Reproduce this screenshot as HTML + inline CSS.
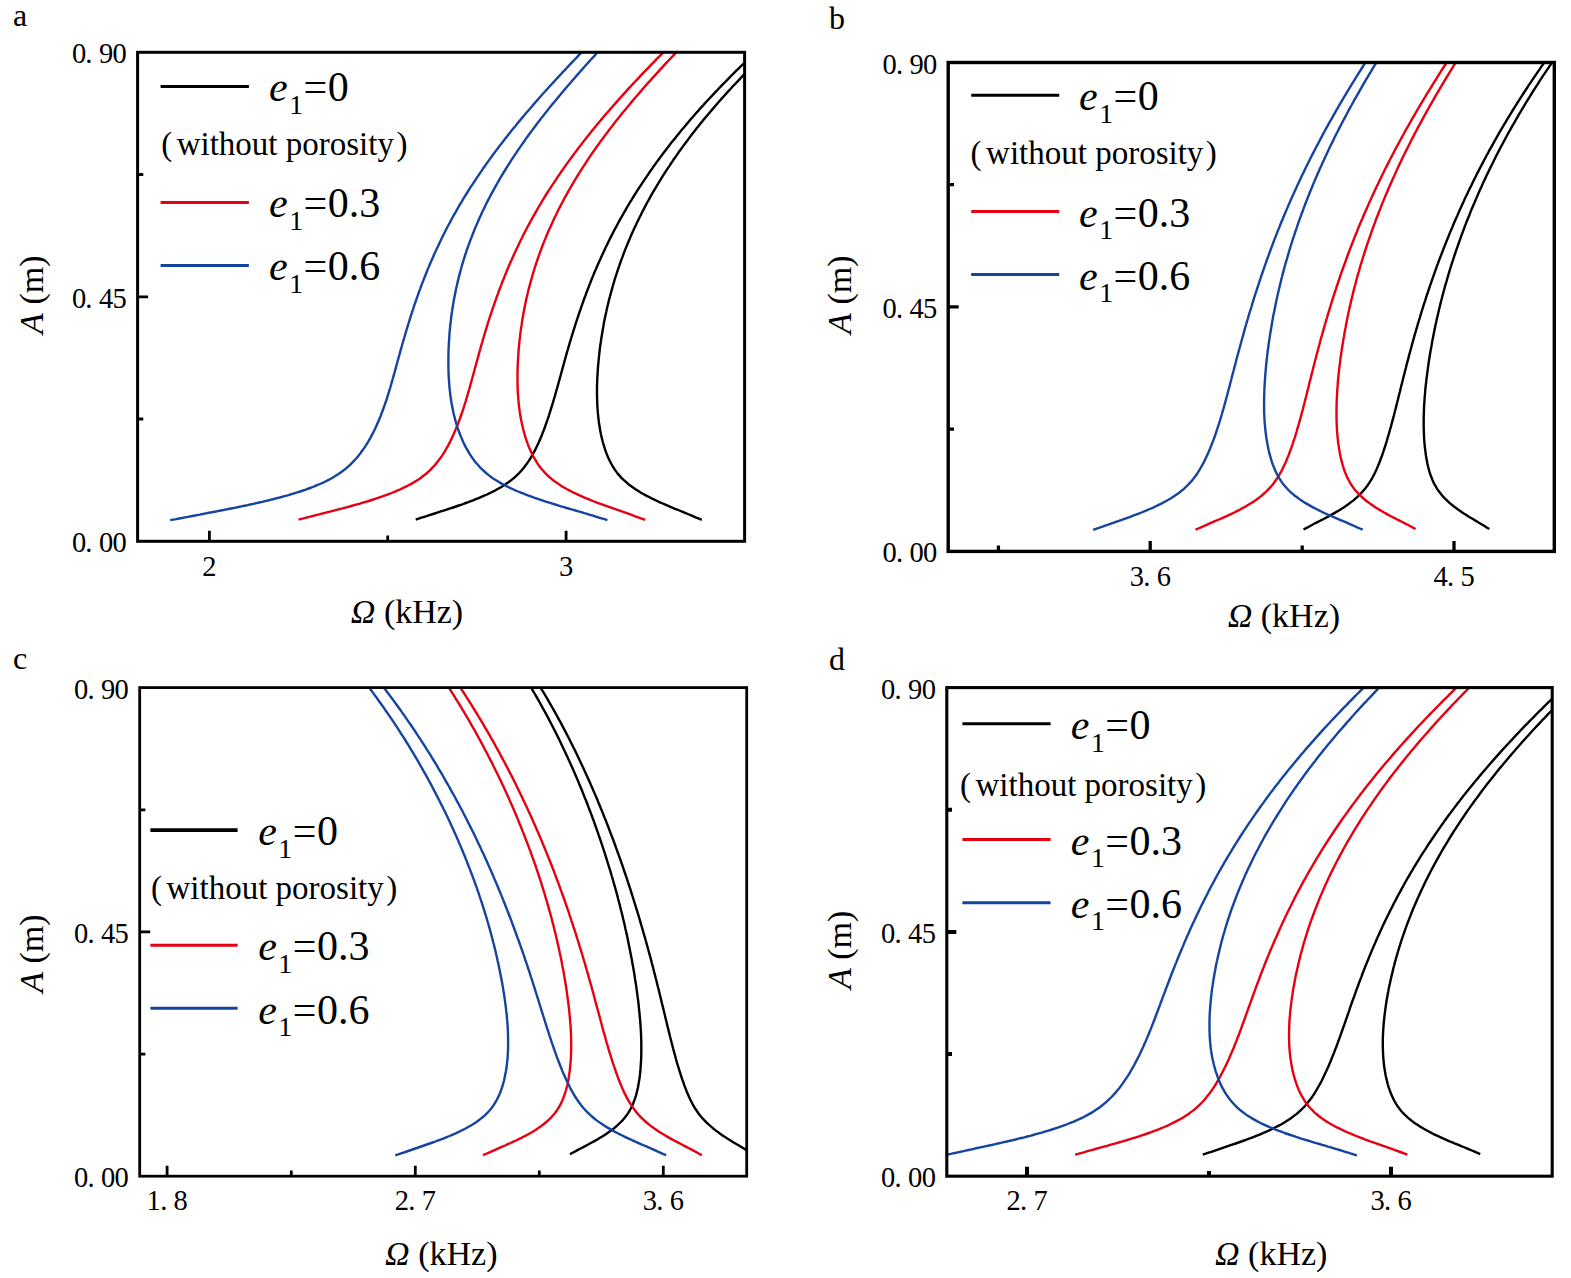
<!DOCTYPE html>
<html lang="en"><head><meta charset="utf-8"><title>Frequency response curves</title>
<style>html,body{margin:0;padding:0;background:#fff}svg{display:block}text{fill:#000}</style></head>
<body>
<svg width="1571" height="1278" viewBox="0 0 1571 1278">
<rect width="1571" height="1278" fill="#fff"/>
<g id="panel-a">
<clipPath id="clip-a"><rect x="137.6" y="52.3" width="607.0" height="489.0"/></clipPath>
<g clip-path="url(#clip-a)" fill="none" stroke-width="2.4" stroke-linejoin="round" stroke-linecap="butt">
<path d="M773.3,36.0 L771.0,38.0 L768.8,40.1 L766.5,42.1 L764.3,44.1 L762.1,46.2 L759.9,48.2 L757.6,50.3 L755.4,52.4 L753.2,54.4 L751.0,56.5 L748.8,58.6 L746.7,60.7 L744.5,62.8 L742.3,64.9 L740.1,67.0 L738.0,69.1 L735.8,71.2 L733.7,73.4 L731.5,75.5 L729.4,77.7 L727.3,79.8 L725.2,82.0 L723.0,84.1 L720.9,86.3 L718.8,88.5 L716.8,90.7 L714.7,92.9 L712.6,95.1 L710.5,97.3 L708.5,99.5 L706.4,101.7 L704.4,103.9 L702.4,106.2 L700.3,108.4 L698.3,110.7 L696.3,112.9 L694.3,115.2 L692.3,117.5 L690.3,119.8 L688.4,122.1 L686.4,124.4 L684.5,126.7 L682.5,129.0 L680.6,131.3 L678.7,133.7 L676.8,136.0 L674.9,138.4 L673.0,140.8 L671.1,143.1 L669.2,145.5 L667.4,147.9 L665.6,150.3 L663.7,152.7 L661.9,155.1 L660.1,157.5 L658.3,160.0 L656.5,162.4 L654.8,164.9 L653.0,167.3 L651.3,169.8 L649.5,172.3 L647.8,174.8 L646.1,177.3 L644.4,179.8 L642.7,182.3 L641.1,184.8 L639.4,187.4 L637.8,189.9 L636.2,192.4 L634.5,195.0 L632.9,197.6 L631.4,200.2 L629.8,202.7 L628.2,205.3 L626.7,207.9 L625.2,210.6 L623.7,213.2 L622.2,215.8 L620.7,218.4 L619.2,221.1 L617.8,223.7 L616.4,226.4 L614.9,229.1 L613.5,231.8 L612.2,234.4 L610.8,237.1 L609.4,239.8 L608.1,242.6 L606.8,245.3 L605.4,248.0 L604.2,250.7 L602.9,253.5 L601.6,256.2 L600.4,259.0 L599.1,261.7 L597.9,264.5 L596.7,267.3 L595.5,270.1 L594.3,272.8 L593.2,275.6 L592.0,278.4 L590.9,281.2 L589.8,284.1 L588.7,286.9 L587.6,289.7 L586.5,292.5 L585.5,295.4 L584.4,298.2 L583.4,301.0 L582.4,303.9 L581.4,306.7 L580.4,309.6 L579.4,312.5 L578.4,315.3 L577.5,318.2 L576.5,321.1 L575.6,323.9 L574.7,326.8 L573.8,329.7 L572.9,332.6 L572.0,335.5 L571.1,338.4 L570.2,341.3 L569.4,344.2 L568.5,347.1 L567.7,350.0 L566.8,352.9 L566.0,355.8 L565.2,358.7 L564.4,361.6 L563.6,364.5 L562.8,367.5 L562.0,370.4 L561.2,373.3 L560.4,376.2 L559.6,379.1 L558.8,382.0 L558.0,385.0 L557.2,387.9 L556.3,390.8 L555.5,393.7 L554.7,396.6 L553.8,399.5 L553.0,402.4 L552.1,405.3 L551.2,408.2 L550.3,411.1 L549.4,414.0 L548.5,416.8 L547.5,419.7 L546.5,422.6 L545.5,425.4 L544.5,428.3 L543.4,431.1 L542.3,433.9 L541.2,436.7 L540.0,439.5 L538.8,442.3 L537.5,445.0 L536.2,447.7 L534.9,450.4 L533.4,453.1 L532.0,455.7 L530.4,458.3 L528.8,460.9 L527.1,463.4 L525.3,465.8 L523.4,468.2 L521.5,470.5 L519.4,472.8 L517.3,474.9 L515.1,477.0 L512.8,478.9 L510.4,480.8 L508.0,482.6 L505.5,484.3 L503.0,485.9 L500.4,487.5 L497.7,489.0 L495.1,490.5 L492.4,491.8 L489.7,493.2 L487.0,494.5 L484.2,495.7 L481.4,496.9 L478.6,498.1 L475.8,499.2 L473.0,500.4 L470.2,501.4 L467.4,502.5 L464.5,503.5 L461.7,504.6 L458.8,505.5 L456.0,506.5 L453.1,507.5 L450.2,508.4 L447.3,509.4 L444.5,510.3 L441.6,511.2 L438.7,512.1 L435.8,513.1 L433.0,514.0 L430.1,514.9 L427.2,515.9 L424.3,516.8 L421.4,517.7 L418.6,518.7 L415.7,519.6" stroke="#000"/>
<path d="M783.6,36.0 L781.4,38.1 L779.2,40.1 L777.0,42.2 L774.8,44.3 L772.6,46.4 L770.4,48.5 L768.2,50.5 L766.0,52.6 L763.8,54.8 L761.7,56.9 L759.5,59.0 L757.3,61.1 L755.2,63.3 L753.0,65.4 L750.9,67.6 L748.8,69.7 L746.7,71.9 L744.6,74.0 L742.5,76.2 L740.4,78.4 L738.3,80.6 L736.2,82.8 L734.1,85.0 L732.0,87.2 L730.0,89.5 L727.9,91.7 L725.9,93.9 L723.9,96.2 L721.9,98.4 L719.8,100.7 L717.8,103.0 L715.9,105.3 L713.9,107.6 L711.9,109.9 L709.9,112.2 L708.0,114.5 L706.1,116.8 L704.1,119.1 L702.2,121.5 L700.3,123.8 L698.4,126.2 L696.5,128.6 L694.6,131.0 L692.8,133.3 L690.9,135.7 L689.1,138.1 L687.3,140.6 L685.5,143.0 L683.7,145.4 L681.9,147.9 L680.1,150.3 L678.3,152.8 L676.6,155.3 L674.9,157.8 L673.1,160.3 L671.4,162.8 L669.8,165.3 L668.1,167.8 L666.4,170.3 L664.8,172.9 L663.2,175.4 L661.5,178.0 L660.0,180.6 L658.4,183.2 L656.8,185.8 L655.3,188.4 L653.7,191.0 L652.2,193.6 L650.7,196.2 L649.3,198.9 L647.8,201.5 L646.3,204.2 L644.9,206.9 L643.5,209.6 L642.1,212.2 L640.8,215.0 L639.4,217.7 L638.1,220.4 L636.8,223.1 L635.5,225.9 L634.2,228.6 L632.9,231.4 L631.7,234.1 L630.5,236.9 L629.3,239.7 L628.1,242.5 L627.0,245.3 L625.8,248.1 L624.7,250.9 L623.6,253.7 L622.6,256.6 L621.5,259.4 L620.5,262.2 L619.5,265.1 L618.5,268.0 L617.5,270.8 L616.6,273.7 L615.6,276.6 L614.7,279.5 L613.9,282.4 L613.0,285.3 L612.2,288.2 L611.4,291.1 L610.6,294.1 L609.8,297.0 L609.0,299.9 L608.3,302.9 L607.6,305.8 L606.9,308.8 L606.3,311.7 L605.6,314.7 L605.0,317.6 L604.4,320.6 L603.8,323.6 L603.3,326.6 L602.8,329.5 L602.3,332.5 L601.8,335.5 L601.3,338.5 L600.9,341.5 L600.4,344.5 L600.0,347.5 L599.7,350.5 L599.3,353.5 L599.0,356.5 L598.7,359.5 L598.4,362.6 L598.1,365.6 L597.9,368.6 L597.7,371.6 L597.5,374.6 L597.3,377.7 L597.2,380.7 L597.1,383.7 L597.0,386.8 L597.0,389.8 L597.0,392.8 L597.0,395.8 L597.1,398.9 L597.2,401.9 L597.3,404.9 L597.5,407.9 L597.7,411.0 L598.0,414.0 L598.3,417.0 L598.6,420.0 L599.0,423.0 L599.5,426.0 L600.0,429.0 L600.5,432.0 L601.1,434.9 L601.8,437.9 L602.5,440.8 L603.3,443.8 L604.2,446.7 L605.1,449.5 L606.1,452.4 L607.2,455.2 L608.4,458.0 L609.7,460.8 L611.1,463.5 L612.6,466.1 L614.2,468.7 L615.9,471.1 L617.7,473.6 L619.7,475.9 L621.7,478.1 L623.9,480.2 L626.2,482.2 L628.5,484.2 L630.9,486.0 L633.4,487.8 L635.9,489.5 L638.4,491.1 L641.0,492.7 L643.7,494.2 L646.3,495.6 L649.0,497.0 L651.7,498.4 L654.4,499.7 L657.1,501.0 L659.9,502.3 L662.7,503.5 L665.4,504.7 L668.2,505.9 L671.0,507.1 L673.8,508.3 L676.6,509.4 L679.4,510.5 L682.2,511.7 L685.0,512.8 L687.8,514.0 L690.6,515.2 L693.4,516.4 L696.2,517.6 L699.0,518.7 L701.8,519.9" stroke="#000"/>
<path d="M679.6,36.0 L677.5,38.1 L675.3,40.3 L673.2,42.4 L671.0,44.5 L668.9,46.7 L666.8,48.8 L664.6,51.0 L662.5,53.1 L660.4,55.3 L658.2,57.4 L656.1,59.6 L654.0,61.8 L651.9,63.9 L649.8,66.1 L647.7,68.3 L645.6,70.5 L643.5,72.7 L641.4,74.9 L639.4,77.1 L637.3,79.3 L635.2,81.5 L633.1,83.7 L631.1,85.9 L629.0,88.1 L627.0,90.4 L625.0,92.6 L622.9,94.9 L620.9,97.1 L618.9,99.4 L616.9,101.6 L614.9,103.9 L612.9,106.2 L610.9,108.4 L608.9,110.7 L606.9,113.0 L604.9,115.3 L603.0,117.6 L601.0,119.9 L599.1,122.2 L597.1,124.6 L595.2,126.9 L593.3,129.3 L591.4,131.6 L589.5,134.0 L587.6,136.3 L585.7,138.7 L583.9,141.1 L582.0,143.5 L580.1,145.9 L578.3,148.3 L576.5,150.7 L574.7,153.1 L572.9,155.5 L571.1,158.0 L569.3,160.4 L567.5,162.9 L565.7,165.3 L564.0,167.8 L562.3,170.3 L560.5,172.8 L558.8,175.3 L557.1,177.8 L555.4,180.3 L553.8,182.8 L552.1,185.3 L550.5,187.9 L548.8,190.4 L547.2,193.0 L545.6,195.5 L544.0,198.1 L542.4,200.7 L540.9,203.3 L539.3,205.9 L537.8,208.5 L536.3,211.1 L534.8,213.8 L533.3,216.4 L531.8,219.0 L530.4,221.7 L528.9,224.4 L527.5,227.0 L526.1,229.7 L524.7,232.4 L523.3,235.1 L522.0,237.8 L520.6,240.5 L519.3,243.2 L518.0,246.0 L516.7,248.7 L515.4,251.4 L514.1,254.2 L512.9,256.9 L511.7,259.7 L510.4,262.5 L509.2,265.2 L508.0,268.0 L506.9,270.8 L505.7,273.6 L504.6,276.4 L503.5,279.2 L502.3,282.0 L501.3,284.9 L500.2,287.7 L499.1,290.5 L498.1,293.4 L497.0,296.2 L496.0,299.1 L495.0,301.9 L494.0,304.8 L493.0,307.6 L492.0,310.5 L491.1,313.4 L490.1,316.3 L489.2,319.1 L488.3,322.0 L487.4,324.9 L486.5,327.8 L485.6,330.7 L484.7,333.6 L483.9,336.5 L483.0,339.4 L482.2,342.3 L481.3,345.2 L480.5,348.1 L479.7,351.0 L478.9,353.9 L478.1,356.9 L477.3,359.8 L476.5,362.7 L475.7,365.6 L474.9,368.5 L474.1,371.5 L473.3,374.4 L472.5,377.3 L471.7,380.2 L470.9,383.1 L470.1,386.1 L469.3,389.0 L468.4,391.9 L467.6,394.8 L466.7,397.7 L465.9,400.6 L465.0,403.5 L464.1,406.4 L463.1,409.3 L462.2,412.1 L461.2,415.0 L460.2,417.8 L459.1,420.7 L458.1,423.5 L457.0,426.3 L455.8,429.1 L454.6,431.9 L453.4,434.7 L452.2,437.4 L450.8,440.2 L449.5,442.9 L448.1,445.6 L446.6,448.2 L445.1,450.8 L443.5,453.4 L441.9,455.9 L440.1,458.4 L438.3,460.8 L436.4,463.2 L434.5,465.5 L432.4,467.7 L430.3,469.9 L428.1,472.0 L425.8,474.0 L423.4,475.8 L421.0,477.7 L418.5,479.4 L416.0,481.0 L413.4,482.6 L410.8,484.1 L408.1,485.5 L405.4,486.9 L402.7,488.2 L399.9,489.5 L397.2,490.7 L394.4,491.9 L391.6,493.0 L388.7,494.1 L385.9,495.2 L383.1,496.2 L380.2,497.2 L377.3,498.2 L374.5,499.1 L371.6,500.0 L368.7,501.0 L365.8,501.8 L362.9,502.7 L360.0,503.6 L357.1,504.4 L354.2,505.2 L351.3,506.0 L348.3,506.8 L345.4,507.6 L342.5,508.4 L339.6,509.1 L336.6,509.9 L333.7,510.6 L330.8,511.4 L327.8,512.1 L324.9,512.9 L322.0,513.6 L319.0,514.4 L316.1,515.1 L313.2,515.9 L310.2,516.7 L307.3,517.4 L304.4,518.2 L301.4,518.9 L298.5,519.6" stroke="#e60012"/>
<path d="M692.0,36.0 L689.9,38.2 L687.8,40.3 L685.7,42.5 L683.6,44.7 L681.5,46.9 L679.4,49.0 L677.3,51.2 L675.3,53.4 L673.2,55.6 L671.1,57.8 L669.0,60.0 L667.0,62.2 L664.9,64.4 L662.9,66.6 L660.8,68.9 L658.8,71.1 L656.7,73.3 L654.7,75.6 L652.7,77.8 L650.7,80.1 L648.6,82.3 L646.6,84.6 L644.6,86.8 L642.6,89.1 L640.7,91.4 L638.7,93.7 L636.7,96.0 L634.7,98.3 L632.8,100.6 L630.8,102.9 L628.9,105.2 L627.0,107.5 L625.1,109.9 L623.1,112.2 L621.2,114.5 L619.3,116.9 L617.5,119.3 L615.6,121.6 L613.7,124.0 L611.9,126.4 L610.0,128.8 L608.2,131.2 L606.4,133.6 L604.6,136.0 L602.8,138.5 L601.0,140.9 L599.2,143.3 L597.5,145.8 L595.7,148.3 L594.0,150.7 L592.2,153.2 L590.5,155.7 L588.8,158.2 L587.2,160.7 L585.5,163.3 L583.8,165.8 L582.2,168.3 L580.6,170.9 L579.0,173.4 L577.4,176.0 L575.8,178.6 L574.2,181.2 L572.7,183.8 L571.2,186.4 L569.7,189.0 L568.2,191.6 L566.7,194.3 L565.2,196.9 L563.8,199.6 L562.4,202.2 L561.0,204.9 L559.6,207.6 L558.2,210.3 L556.9,213.0 L555.6,215.7 L554.2,218.4 L553.0,221.2 L551.7,223.9 L550.5,226.7 L549.2,229.4 L548.0,232.2 L546.8,235.0 L545.7,237.8 L544.5,240.6 L543.4,243.4 L542.3,246.2 L541.3,249.0 L540.2,251.9 L539.2,254.7 L538.2,257.5 L537.2,260.4 L536.2,263.3 L535.3,266.1 L534.4,269.0 L533.5,271.9 L532.6,274.8 L531.8,277.7 L531.0,280.6 L530.2,283.5 L529.4,286.5 L528.6,289.4 L527.9,292.3 L527.2,295.3 L526.5,298.2 L525.9,301.1 L525.3,304.1 L524.7,307.1 L524.1,310.0 L523.5,313.0 L523.0,316.0 L522.5,319.0 L522.0,321.9 L521.6,324.9 L521.1,327.9 L520.7,330.9 L520.3,333.9 L520.0,336.9 L519.6,339.9 L519.3,342.9 L519.0,345.9 L518.7,348.9 L518.5,351.9 L518.3,355.0 L518.1,358.0 L517.9,361.0 L517.8,364.0 L517.6,367.0 L517.6,370.1 L517.5,373.1 L517.5,376.1 L517.5,379.1 L517.5,382.1 L517.6,385.2 L517.6,388.2 L517.8,391.2 L517.9,394.2 L518.2,397.2 L518.4,400.2 L518.7,403.3 L519.0,406.3 L519.4,409.3 L519.8,412.2 L520.3,415.2 L520.8,418.2 L521.4,421.2 L522.0,424.1 L522.7,427.1 L523.4,430.0 L524.2,432.9 L525.0,435.8 L525.9,438.7 L526.9,441.6 L527.9,444.4 L529.0,447.2 L530.2,450.0 L531.5,452.8 L532.8,455.5 L534.2,458.1 L535.8,460.7 L537.4,463.3 L539.1,465.8 L540.9,468.2 L542.9,470.5 L544.9,472.7 L547.0,474.9 L549.2,476.9 L551.5,478.9 L553.9,480.8 L556.4,482.6 L558.9,484.3 L561.4,485.9 L564.0,487.5 L566.6,489.0 L569.3,490.4 L572.0,491.8 L574.7,493.1 L577.4,494.4 L580.1,495.7 L582.9,496.9 L585.7,498.1 L588.5,499.2 L591.3,500.4 L594.1,501.5 L596.9,502.6 L599.7,503.6 L602.6,504.7 L605.4,505.7 L608.2,506.7 L611.1,507.7 L614.0,508.7 L616.8,509.7 L619.7,510.7 L622.5,511.7 L625.4,512.7 L628.2,513.7 L631.1,514.7 L633.9,515.8 L636.7,516.8 L639.6,517.8 L642.4,518.8 L645.3,519.8" stroke="#e60012"/>
<path d="M597.3,36.0 L595.2,38.2 L593.1,40.3 L591.0,42.5 L588.9,44.7 L586.8,46.9 L584.7,49.0 L582.6,51.2 L580.5,53.4 L578.4,55.6 L576.4,57.8 L574.3,60.0 L572.2,62.2 L570.1,64.4 L568.0,66.6 L566.0,68.8 L563.9,71.0 L561.8,73.2 L559.8,75.4 L557.7,77.6 L555.7,79.8 L553.6,82.1 L551.6,84.3 L549.5,86.5 L547.5,88.8 L545.5,91.0 L543.4,93.3 L541.4,95.5 L539.4,97.8 L537.4,100.1 L535.4,102.3 L533.4,104.6 L531.5,106.9 L529.5,109.2 L527.5,111.5 L525.5,113.8 L523.6,116.1 L521.6,118.4 L519.7,120.8 L517.8,123.1 L515.9,125.4 L513.9,127.8 L512.0,130.1 L510.1,132.5 L508.3,134.8 L506.4,137.2 L504.5,139.6 L502.7,142.0 L500.8,144.4 L499.0,146.8 L497.1,149.2 L495.3,151.6 L493.5,154.0 L491.7,156.5 L490.0,158.9 L488.2,161.4 L486.4,163.8 L484.7,166.3 L482.9,168.8 L481.2,171.3 L479.5,173.8 L477.8,176.3 L476.1,178.8 L474.5,181.3 L472.8,183.8 L471.1,186.4 L469.5,188.9 L467.9,191.5 L466.3,194.0 L464.7,196.6 L463.1,199.2 L461.6,201.8 L460.0,204.4 L458.5,207.0 L457.0,209.6 L455.5,212.3 L454.0,214.9 L452.5,217.5 L451.1,220.2 L449.7,222.9 L448.2,225.5 L446.8,228.2 L445.4,230.9 L444.1,233.6 L442.7,236.3 L441.4,239.0 L440.1,241.7 L438.8,244.5 L437.5,247.2 L436.2,250.0 L434.9,252.7 L433.7,255.5 L432.5,258.2 L431.3,261.0 L430.1,263.8 L428.9,266.6 L427.7,269.4 L426.6,272.2 L425.5,275.0 L424.4,277.8 L423.3,280.6 L422.2,283.4 L421.1,286.3 L420.1,289.1 L419.0,291.9 L418.0,294.8 L417.0,297.6 L416.0,300.5 L415.0,303.4 L414.0,306.2 L413.1,309.1 L412.1,312.0 L411.2,314.9 L410.3,317.7 L409.4,320.6 L408.5,323.5 L407.6,326.4 L406.7,329.3 L405.9,332.2 L405.0,335.1 L404.2,338.0 L403.3,340.9 L402.5,343.8 L401.7,346.7 L400.8,349.6 L400.0,352.6 L399.2,355.5 L398.4,358.4 L397.6,361.3 L396.8,364.2 L396.0,367.1 L395.2,370.1 L394.4,373.0 L393.6,375.9 L392.8,378.8 L391.9,381.7 L391.1,384.6 L390.3,387.5 L389.4,390.4 L388.5,393.3 L387.6,396.2 L386.7,399.1 L385.7,402.0 L384.7,404.8 L383.7,407.7 L382.7,410.5 L381.6,413.4 L380.6,416.2 L379.4,419.0 L378.2,421.8 L377.0,424.5 L375.8,427.3 L374.5,430.0 L373.1,432.7 L371.7,435.4 L370.3,438.1 L368.8,440.7 L367.2,443.3 L365.6,445.8 L363.9,448.4 L362.2,450.8 L360.4,453.3 L358.5,455.7 L356.6,458.0 L354.6,460.2 L352.5,462.4 L350.3,464.6 L348.1,466.6 L345.8,468.6 L343.4,470.5 L341.0,472.3 L338.5,474.0 L336.0,475.6 L333.4,477.2 L330.8,478.7 L328.1,480.1 L325.4,481.5 L322.7,482.8 L319.9,484.0 L317.1,485.2 L314.3,486.4 L311.5,487.5 L308.7,488.5 L305.8,489.6 L303.0,490.5 L300.1,491.5 L297.2,492.4 L294.3,493.3 L291.4,494.2 L288.5,495.1 L285.6,495.9 L282.7,496.7 L279.8,497.5 L276.9,498.2 L273.9,499.0 L271.0,499.7 L268.1,500.5 L265.1,501.2 L262.2,501.9 L259.2,502.5 L256.3,503.2 L253.3,503.9 L250.4,504.5 L247.4,505.2 L244.5,505.8 L241.5,506.4 L238.5,507.0 L235.6,507.6 L232.6,508.2 L229.6,508.8 L226.7,509.4 L223.7,510.0 L220.7,510.5 L217.8,511.1 L214.8,511.7 L211.8,512.3 L208.8,512.8 L205.9,513.4 L202.9,514.0 L199.9,514.6 L197.0,515.1 L194.0,515.7 L191.0,516.3 L188.1,516.9 L185.1,517.4 L182.1,518.0 L179.1,518.5 L176.2,519.1 L173.2,519.6 L170.2,520.1" stroke="#1544a0"/>
<path d="M612.6,36.0 L610.5,38.2 L608.5,40.4 L606.4,42.7 L604.4,44.9 L602.3,47.1 L600.3,49.3 L598.2,51.6 L596.2,53.8 L594.2,56.1 L592.1,58.3 L590.1,60.5 L588.1,62.8 L586.0,65.0 L584.0,67.3 L582.0,69.6 L580.0,71.8 L578.0,74.1 L576.0,76.4 L574.0,78.7 L572.0,80.9 L570.1,83.2 L568.1,85.5 L566.1,87.8 L564.2,90.1 L562.2,92.5 L560.3,94.8 L558.3,97.1 L556.4,99.4 L554.5,101.8 L552.5,104.1 L550.6,106.5 L548.7,108.8 L546.8,111.2 L545.0,113.6 L543.1,115.9 L541.2,118.3 L539.4,120.7 L537.5,123.1 L535.7,125.5 L533.9,128.0 L532.1,130.4 L530.3,132.8 L528.5,135.3 L526.7,137.7 L525.0,140.2 L523.2,142.7 L521.5,145.1 L519.8,147.6 L518.0,150.1 L516.4,152.6 L514.7,155.1 L513.0,157.7 L511.3,160.2 L509.7,162.8 L508.1,165.3 L506.5,167.9 L504.9,170.5 L503.3,173.0 L501.7,175.6 L500.2,178.2 L498.7,180.9 L497.2,183.5 L495.7,186.1 L494.2,188.8 L492.8,191.4 L491.3,194.1 L489.9,196.8 L488.5,199.4 L487.1,202.1 L485.8,204.8 L484.4,207.6 L483.1,210.3 L481.8,213.0 L480.6,215.8 L479.3,218.5 L478.1,221.3 L476.9,224.1 L475.7,226.9 L474.5,229.7 L473.4,232.5 L472.3,235.3 L471.2,238.1 L470.1,240.9 L469.1,243.8 L468.0,246.6 L467.0,249.5 L466.1,252.3 L465.1,255.2 L464.2,258.1 L463.3,261.0 L462.4,263.9 L461.6,266.8 L460.8,269.7 L460.0,272.6 L459.2,275.6 L458.5,278.5 L457.8,281.4 L457.1,284.4 L456.4,287.3 L455.8,290.3 L455.2,293.3 L454.6,296.2 L454.0,299.2 L453.5,302.2 L453.0,305.2 L452.5,308.2 L452.1,311.2 L451.6,314.2 L451.2,317.2 L450.9,320.2 L450.5,323.2 L450.2,326.2 L449.9,329.2 L449.6,332.2 L449.4,335.2 L449.2,338.3 L449.0,341.3 L448.8,344.3 L448.7,347.3 L448.5,350.4 L448.5,353.4 L448.4,356.4 L448.4,359.4 L448.4,362.5 L448.4,365.5 L448.4,368.5 L448.5,371.5 L448.6,374.6 L448.8,377.6 L449.0,380.6 L449.2,383.6 L449.4,386.6 L449.7,389.7 L450.1,392.7 L450.4,395.7 L450.9,398.7 L451.3,401.7 L451.8,404.6 L452.4,407.6 L453.0,410.6 L453.6,413.5 L454.4,416.5 L455.1,419.4 L455.9,422.3 L456.8,425.2 L457.7,428.1 L458.7,431.0 L459.8,433.8 L460.9,436.6 L462.1,439.4 L463.3,442.2 L464.6,444.9 L466.0,447.6 L467.5,450.2 L469.0,452.9 L470.6,455.4 L472.3,457.9 L474.1,460.4 L476.0,462.7 L478.0,465.0 L480.0,467.3 L482.1,469.4 L484.4,471.5 L486.6,473.5 L489.0,475.4 L491.4,477.2 L493.9,478.9 L496.5,480.5 L499.1,482.1 L501.7,483.6 L504.4,485.0 L507.0,486.4 L509.8,487.8 L512.5,489.0 L515.3,490.3 L518.1,491.5 L520.9,492.6 L523.7,493.7 L526.5,494.8 L529.3,495.9 L532.2,496.9 L535.0,498.0 L537.9,498.9 L540.7,499.9 L543.6,500.9 L546.5,501.8 L549.4,502.7 L552.3,503.6 L555.2,504.5 L558.1,505.4 L561.0,506.3 L563.9,507.1 L566.8,508.0 L569.7,508.8 L572.6,509.7 L575.5,510.5 L578.4,511.4 L581.3,512.2 L584.2,513.1 L587.1,513.9 L590.0,514.8 L592.9,515.7 L595.8,516.6 L598.7,517.5 L601.6,518.3 L604.5,519.2 L607.4,520.1" stroke="#1544a0"/>
</g>
<rect x="137.6" y="52.3" width="607.0" height="489.0" fill="none" stroke="#000" stroke-width="3.0"/>
<path d="M209.4,541.3 V530.8 M566.1,541.3 V530.8 M387.7,541.3 V535.5 M137.6,296.8 H148.1 M137.6,174.5 H143.3 M137.6,419.0 H143.3" stroke="#000" stroke-width="2.8" fill="none"/>
<text x="209.4" y="575.5" text-anchor="middle" font-size="28.5" font-family="Liberation Serif, serif">2</text>
<text x="566.1" y="575.5" text-anchor="middle" font-size="28.5" font-family="Liberation Serif, serif">3</text>
<text x="79.0 88.9 106.0 119.6" y="63.3" text-anchor="middle" font-size="28.5" font-family="Liberation Serif, serif">0.90</text>
<text x="79.0 88.9 106.0 119.6" y="307.8" text-anchor="middle" font-size="28.5" font-family="Liberation Serif, serif">0.45</text>
<text x="79.0 88.9 106.0 119.6" y="552.3" text-anchor="middle" font-size="28.5" font-family="Liberation Serif, serif">0.00</text>
<text x="407.0" y="622.5" text-anchor="middle" font-size="34" font-family="Liberation Serif, serif"><tspan font-style="italic">Ω</tspan> (kHz)</text>
<text transform="translate(43.2,294.7) rotate(-90)" text-anchor="middle" font-size="34" font-family="Liberation Serif, serif"><tspan font-style="italic">A</tspan> (m)</text>
<line x1="160.6" x2="248.9" y1="86.4" y2="86.4" stroke="#000" stroke-width="3.0"/>
<text x="269.0" y="101.3" font-size="42" font-family="Liberation Serif, serif"><tspan font-style="italic">e</tspan><tspan font-size="27.7" dx="1.5" dy="12.5">1</tspan><tspan dx="0.5" dy="-12.5">=</tspan><tspan dx="0.5">0</tspan></text>
<line x1="160.6" x2="248.9" y1="202.4" y2="202.4" stroke="#e60012" stroke-width="3.0"/>
<text x="269.0" y="217.2" font-size="42" font-family="Liberation Serif, serif"><tspan font-style="italic">e</tspan><tspan font-size="27.7" dx="1.5" dy="12.5">1</tspan><tspan dx="0.5" dy="-12.5">=</tspan><tspan dx="0.5">0.3</tspan></text>
<line x1="160.6" x2="248.9" y1="265.5" y2="265.5" stroke="#1544a0" stroke-width="3.0"/>
<text x="269.0" y="280.4" font-size="42" font-family="Liberation Serif, serif"><tspan font-style="italic">e</tspan><tspan font-size="27.7" dx="1.5" dy="12.5">1</tspan><tspan dx="0.5" dy="-12.5">=</tspan><tspan dx="0.5">0.6</tspan></text>
<text x="161.2" y="155.2" font-size="33" font-family="Liberation Serif, Noto Serif CJK SC, serif">(<tspan dx="4.5">without porosity</tspan><tspan dx="2.5">)</tspan></text>
<text x="13.0" y="26.0" font-size="32" font-family="Liberation Serif, serif">a</text>
</g>
<g id="panel-b">
<clipPath id="clip-b"><rect x="948.2" y="62.5" width="606.1" height="488.9"/></clipPath>
<g clip-path="url(#clip-b)" fill="none" stroke-width="2.4" stroke-linejoin="round" stroke-linecap="butt">
<path d="M1556.0,46.2 L1554.2,48.6 L1552.5,51.1 L1550.7,53.6 L1548.9,56.0 L1547.2,58.5 L1545.4,61.0 L1543.7,63.4 L1541.9,65.9 L1540.2,68.4 L1538.5,70.9 L1536.8,73.4 L1535.1,75.9 L1533.4,78.4 L1531.7,80.9 L1530.0,83.4 L1528.3,85.9 L1526.7,88.5 L1525.0,91.0 L1523.4,93.5 L1521.7,96.1 L1520.1,98.6 L1518.5,101.2 L1516.9,103.7 L1515.2,106.3 L1513.6,108.9 L1512.0,111.5 L1510.5,114.0 L1508.9,116.6 L1507.3,119.2 L1505.8,121.8 L1504.2,124.4 L1502.7,127.0 L1501.1,129.6 L1499.6,132.2 L1498.1,134.9 L1496.6,137.5 L1495.1,140.1 L1493.6,142.8 L1492.2,145.4 L1490.7,148.1 L1489.2,150.7 L1487.8,153.4 L1486.3,156.0 L1484.9,158.7 L1483.5,161.4 L1482.1,164.1 L1480.7,166.7 L1479.3,169.4 L1477.9,172.1 L1476.5,174.8 L1475.2,177.5 L1473.8,180.2 L1472.5,182.9 L1471.2,185.7 L1469.8,188.4 L1468.5,191.1 L1467.2,193.9 L1465.9,196.6 L1464.6,199.3 L1463.4,202.1 L1462.1,204.8 L1460.9,207.6 L1459.6,210.3 L1458.4,213.1 L1457.2,215.9 L1455.9,218.7 L1454.7,221.4 L1453.5,224.2 L1452.4,227.0 L1451.2,229.8 L1450.0,232.6 L1448.9,235.4 L1447.7,238.2 L1446.6,241.0 L1445.5,243.8 L1444.4,246.6 L1443.3,249.4 L1442.2,252.3 L1441.1,255.1 L1440.0,257.9 L1438.9,260.8 L1437.9,263.6 L1436.8,266.4 L1435.8,269.3 L1434.8,272.1 L1433.8,275.0 L1432.8,277.8 L1431.8,280.7 L1430.8,283.6 L1429.8,286.4 L1428.8,289.3 L1427.9,292.2 L1426.9,295.0 L1426.0,297.9 L1425.1,300.8 L1424.1,303.7 L1423.2,306.6 L1422.3,309.5 L1421.4,312.3 L1420.5,315.2 L1419.7,318.1 L1418.8,321.0 L1417.9,323.9 L1417.1,326.8 L1416.2,329.7 L1415.4,332.7 L1414.5,335.6 L1413.7,338.5 L1412.9,341.4 L1412.1,344.3 L1411.3,347.2 L1410.5,350.2 L1409.7,353.1 L1408.9,356.0 L1408.2,358.9 L1407.4,361.9 L1406.6,364.8 L1405.9,367.7 L1405.1,370.7 L1404.4,373.6 L1403.6,376.5 L1402.9,379.5 L1402.2,382.4 L1401.4,385.3 L1400.7,388.3 L1400.0,391.2 L1399.2,394.2 L1398.5,397.1 L1397.8,400.0 L1397.0,403.0 L1396.3,405.9 L1395.6,408.8 L1394.8,411.8 L1394.1,414.7 L1393.3,417.6 L1392.5,420.6 L1391.7,423.5 L1391.0,426.4 L1390.1,429.3 L1389.3,432.2 L1388.5,435.1 L1387.6,438.0 L1386.8,440.9 L1385.9,443.8 L1385.0,446.7 L1384.0,449.6 L1383.1,452.5 L1382.1,455.3 L1381.0,458.2 L1380.0,461.0 L1378.9,463.8 L1377.7,466.6 L1376.5,469.4 L1375.2,472.2 L1373.9,474.9 L1372.5,477.5 L1371.0,480.2 L1369.4,482.7 L1367.7,485.2 L1365.8,487.7 L1363.9,490.0 L1361.9,492.3 L1359.8,494.5 L1357.7,496.6 L1355.4,498.6 L1353.1,500.6 L1350.7,502.4 L1348.3,504.2 L1345.8,506.0 L1343.3,507.7 L1340.8,509.3 L1338.2,510.9 L1335.6,512.4 L1333.0,513.9 L1330.3,515.4 L1327.6,516.9 L1325.0,518.3 L1322.3,519.7 L1319.6,521.0 L1316.9,522.4 L1314.2,523.8 L1311.5,525.2 L1308.9,526.7 L1306.2,528.1 L1303.5,529.5" stroke="#000"/>
<path d="M1563.4,46.2 L1561.7,48.7 L1559.9,51.1 L1558.2,53.6 L1556.4,56.1 L1554.7,58.6 L1553.0,61.1 L1551.3,63.6 L1549.6,66.1 L1547.9,68.6 L1546.2,71.1 L1544.5,73.6 L1542.8,76.2 L1541.2,78.7 L1539.5,81.2 L1537.9,83.8 L1536.2,86.3 L1534.6,88.9 L1533.0,91.4 L1531.4,94.0 L1529.8,96.6 L1528.2,99.2 L1526.6,101.7 L1525.0,104.3 L1523.5,106.9 L1521.9,109.5 L1520.4,112.1 L1518.8,114.7 L1517.3,117.4 L1515.8,120.0 L1514.3,122.6 L1512.8,125.2 L1511.3,127.9 L1509.8,130.5 L1508.3,133.2 L1506.9,135.8 L1505.4,138.5 L1504.0,141.1 L1502.6,143.8 L1501.1,146.5 L1499.7,149.2 L1498.3,151.9 L1496.9,154.6 L1495.6,157.3 L1494.2,160.0 L1492.9,162.7 L1491.5,165.4 L1490.2,168.1 L1488.9,170.8 L1487.5,173.6 L1486.2,176.3 L1485.0,179.0 L1483.7,181.8 L1482.4,184.5 L1481.2,187.3 L1479.9,190.1 L1478.7,192.8 L1477.5,195.6 L1476.3,198.4 L1475.1,201.2 L1473.9,204.0 L1472.7,206.7 L1471.5,209.5 L1470.4,212.3 L1469.3,215.2 L1468.1,218.0 L1467.0,220.8 L1465.9,223.6 L1464.8,226.4 L1463.8,229.3 L1462.7,232.1 L1461.6,234.9 L1460.6,237.8 L1459.6,240.6 L1458.6,243.5 L1457.6,246.4 L1456.6,249.2 L1455.6,252.1 L1454.6,255.0 L1453.7,257.8 L1452.8,260.7 L1451.8,263.6 L1450.9,266.5 L1450.0,269.4 L1449.1,272.3 L1448.3,275.2 L1447.4,278.1 L1446.6,281.0 L1445.7,283.9 L1444.9,286.8 L1444.1,289.7 L1443.3,292.7 L1442.5,295.6 L1441.8,298.5 L1441.0,301.5 L1440.3,304.4 L1439.6,307.3 L1438.9,310.3 L1438.2,313.2 L1437.5,316.2 L1436.8,319.1 L1436.2,322.1 L1435.5,325.1 L1434.9,328.0 L1434.3,331.0 L1433.7,334.0 L1433.1,336.9 L1432.5,339.9 L1432.0,342.9 L1431.5,345.9 L1430.9,348.9 L1430.4,351.8 L1429.9,354.8 L1429.4,357.8 L1429.0,360.8 L1428.5,363.8 L1428.1,366.8 L1427.7,369.8 L1427.3,372.8 L1426.9,375.8 L1426.5,378.8 L1426.2,381.8 L1425.8,384.8 L1425.5,387.9 L1425.2,390.9 L1425.0,393.9 L1424.7,396.9 L1424.5,399.9 L1424.3,403.0 L1424.1,406.0 L1424.0,409.0 L1423.9,412.0 L1423.8,415.1 L1423.7,418.1 L1423.7,421.1 L1423.7,424.1 L1423.7,427.2 L1423.8,430.2 L1423.9,433.2 L1424.0,436.3 L1424.2,439.3 L1424.4,442.3 L1424.7,445.3 L1425.0,448.3 L1425.4,451.3 L1425.8,454.3 L1426.2,457.3 L1426.8,460.3 L1427.3,463.3 L1428.0,466.2 L1428.8,469.2 L1429.6,472.1 L1430.5,475.0 L1431.6,477.8 L1432.7,480.6 L1434.0,483.4 L1435.5,486.0 L1437.0,488.6 L1438.7,491.1 L1440.6,493.5 L1442.5,495.9 L1444.5,498.1 L1446.7,500.2 L1448.9,502.3 L1451.2,504.3 L1453.6,506.2 L1456.0,508.0 L1458.4,509.8 L1460.9,511.5 L1463.4,513.2 L1466.0,514.8 L1468.5,516.5 L1471.1,518.0 L1473.7,519.6 L1476.3,521.1 L1478.9,522.7 L1481.5,524.2 L1484.1,525.8 L1486.7,527.4 L1489.3,529.0" stroke="#000"/>
<path d="M1457.3,46.2 L1455.6,48.7 L1453.9,51.3 L1452.3,53.8 L1450.6,56.3 L1449.0,58.9 L1447.3,61.4 L1445.7,64.0 L1444.1,66.5 L1442.4,69.0 L1440.8,71.6 L1439.2,74.2 L1437.6,76.7 L1436.0,79.3 L1434.4,81.9 L1432.8,84.4 L1431.2,87.0 L1429.6,89.6 L1428.0,92.2 L1426.4,94.7 L1424.9,97.3 L1423.3,99.9 L1421.8,102.5 L1420.2,105.1 L1418.7,107.7 L1417.1,110.3 L1415.6,113.0 L1414.1,115.6 L1412.6,118.2 L1411.1,120.8 L1409.6,123.5 L1408.1,126.1 L1406.6,128.7 L1405.1,131.4 L1403.7,134.0 L1402.2,136.7 L1400.8,139.3 L1399.3,142.0 L1397.9,144.6 L1396.4,147.3 L1395.0,150.0 L1393.6,152.7 L1392.2,155.4 L1390.8,158.0 L1389.4,160.7 L1388.1,163.4 L1386.7,166.1 L1385.3,168.8 L1384.0,171.5 L1382.6,174.3 L1381.3,177.0 L1380.0,179.7 L1378.7,182.4 L1377.4,185.1 L1376.1,187.9 L1374.8,190.6 L1373.5,193.4 L1372.2,196.1 L1371.0,198.9 L1369.7,201.6 L1368.5,204.4 L1367.3,207.2 L1366.1,209.9 L1364.8,212.7 L1363.6,215.5 L1362.5,218.3 L1361.3,221.0 L1360.1,223.8 L1358.9,226.6 L1357.8,229.4 L1356.7,232.2 L1355.5,235.0 L1354.4,237.9 L1353.3,240.7 L1352.2,243.5 L1351.1,246.3 L1350.0,249.1 L1348.9,252.0 L1347.9,254.8 L1346.8,257.6 L1345.8,260.5 L1344.8,263.3 L1343.7,266.2 L1342.7,269.0 L1341.7,271.9 L1340.7,274.7 L1339.7,277.6 L1338.8,280.5 L1337.8,283.3 L1336.8,286.2 L1335.9,289.1 L1334.9,292.0 L1334.0,294.8 L1333.1,297.7 L1332.2,300.6 L1331.3,303.5 L1330.4,306.4 L1329.5,309.3 L1328.6,312.2 L1327.7,315.1 L1326.9,318.0 L1326.0,320.9 L1325.2,323.8 L1324.3,326.7 L1323.5,329.6 L1322.7,332.5 L1321.9,335.4 L1321.0,338.3 L1320.2,341.3 L1319.5,344.2 L1318.7,347.1 L1317.9,350.0 L1317.1,353.0 L1316.3,355.9 L1315.6,358.8 L1314.8,361.7 L1314.1,364.7 L1313.3,367.6 L1312.6,370.5 L1311.8,373.5 L1311.1,376.4 L1310.4,379.4 L1309.6,382.3 L1308.9,385.2 L1308.2,388.2 L1307.4,391.1 L1306.7,394.0 L1306.0,397.0 L1305.2,399.9 L1304.5,402.8 L1303.7,405.8 L1303.0,408.7 L1302.2,411.6 L1301.4,414.5 L1300.6,417.5 L1299.8,420.4 L1299.0,423.3 L1298.2,426.2 L1297.3,429.1 L1296.5,432.0 L1295.6,434.9 L1294.7,437.8 L1293.7,440.7 L1292.8,443.6 L1291.8,446.4 L1290.8,449.3 L1289.7,452.1 L1288.7,454.9 L1287.5,457.7 L1286.4,460.5 L1285.2,463.3 L1283.9,466.1 L1282.6,468.8 L1281.2,471.5 L1279.7,474.1 L1278.2,476.7 L1276.5,479.3 L1274.8,481.7 L1273.0,484.2 L1271.0,486.5 L1269.0,488.7 L1266.9,490.9 L1264.7,493.0 L1262.4,495.0 L1260.1,496.9 L1257.7,498.7 L1255.2,500.5 L1252.7,502.2 L1250.1,503.8 L1247.5,505.3 L1244.9,506.9 L1242.3,508.3 L1239.6,509.8 L1236.9,511.1 L1234.2,512.5 L1231.5,513.8 L1228.7,515.1 L1226.0,516.4 L1223.2,517.6 L1220.5,518.8 L1217.7,520.0 L1214.9,521.2 L1212.1,522.4 L1209.3,523.6 L1206.6,524.8 L1203.8,526.1 L1201.0,527.3 L1198.3,528.5 L1195.5,529.7" stroke="#e60012"/>
<path d="M1466.0,46.2 L1464.3,48.8 L1462.7,51.3 L1461.1,53.9 L1459.5,56.4 L1457.9,59.0 L1456.3,61.5 L1454.7,64.1 L1453.1,66.7 L1451.5,69.3 L1449.9,71.8 L1448.4,74.4 L1446.8,77.0 L1445.2,79.6 L1443.7,82.2 L1442.1,84.8 L1440.6,87.4 L1439.1,90.0 L1437.5,92.6 L1436.0,95.2 L1434.5,97.8 L1433.0,100.4 L1431.5,103.1 L1430.0,105.7 L1428.5,108.3 L1427.0,111.0 L1425.6,113.6 L1424.1,116.3 L1422.7,118.9 L1421.2,121.6 L1419.8,124.2 L1418.3,126.9 L1416.9,129.6 L1415.5,132.2 L1414.1,134.9 L1412.7,137.6 L1411.3,140.3 L1410.0,143.0 L1408.6,145.7 L1407.3,148.4 L1405.9,151.1 L1404.6,153.8 L1403.2,156.5 L1401.9,159.2 L1400.6,162.0 L1399.3,164.7 L1398.0,167.4 L1396.8,170.2 L1395.5,172.9 L1394.3,175.7 L1393.0,178.4 L1391.8,181.2 L1390.6,183.9 L1389.3,186.7 L1388.1,189.5 L1387.0,192.3 L1385.8,195.1 L1384.6,197.9 L1383.5,200.6 L1382.3,203.4 L1381.2,206.2 L1380.1,209.1 L1379.0,211.9 L1377.9,214.7 L1376.8,217.5 L1375.7,220.3 L1374.7,223.2 L1373.6,226.0 L1372.6,228.9 L1371.6,231.7 L1370.6,234.5 L1369.6,237.4 L1368.6,240.3 L1367.6,243.1 L1366.7,246.0 L1365.7,248.9 L1364.8,251.7 L1363.9,254.6 L1363.0,257.5 L1362.1,260.4 L1361.2,263.3 L1360.3,266.2 L1359.5,269.1 L1358.7,272.0 L1357.8,274.9 L1357.0,277.8 L1356.2,280.7 L1355.5,283.7 L1354.7,286.6 L1353.9,289.5 L1353.2,292.4 L1352.5,295.4 L1351.8,298.3 L1351.1,301.3 L1350.4,304.2 L1349.7,307.1 L1349.1,310.1 L1348.4,313.1 L1347.8,316.0 L1347.2,319.0 L1346.6,321.9 L1346.0,324.9 L1345.5,327.9 L1344.9,330.8 L1344.4,333.8 L1343.9,336.8 L1343.3,339.8 L1342.9,342.8 L1342.4,345.7 L1341.9,348.7 L1341.5,351.7 L1341.0,354.7 L1340.6,357.7 L1340.2,360.7 L1339.9,363.7 L1339.5,366.7 L1339.1,369.7 L1338.8,372.7 L1338.5,375.7 L1338.2,378.7 L1337.9,381.7 L1337.7,384.8 L1337.5,387.8 L1337.2,390.8 L1337.1,393.8 L1336.9,396.8 L1336.8,399.8 L1336.6,402.9 L1336.6,405.9 L1336.5,408.9 L1336.5,411.9 L1336.5,415.0 L1336.5,418.0 L1336.6,421.0 L1336.7,424.0 L1336.8,427.0 L1337.0,430.1 L1337.2,433.1 L1337.5,436.1 L1337.8,439.1 L1338.1,442.1 L1338.5,445.1 L1339.0,448.1 L1339.5,451.1 L1340.0,454.0 L1340.6,457.0 L1341.3,459.9 L1342.1,462.9 L1342.9,465.8 L1343.8,468.7 L1344.8,471.5 L1345.9,474.3 L1347.1,477.1 L1348.5,479.8 L1349.9,482.5 L1351.5,485.0 L1353.2,487.5 L1355.1,489.9 L1357.0,492.2 L1359.1,494.4 L1361.3,496.5 L1363.5,498.5 L1365.9,500.5 L1368.2,502.3 L1370.7,504.1 L1373.2,505.8 L1375.7,507.5 L1378.3,509.1 L1380.9,510.6 L1383.5,512.2 L1386.1,513.6 L1388.8,515.1 L1391.4,516.5 L1394.1,517.9 L1396.8,519.3 L1399.5,520.6 L1402.2,522.0 L1404.9,523.4 L1407.6,524.8 L1410.3,526.2 L1412.9,527.6 L1415.6,529.0" stroke="#e60012"/>
<path d="M1376.0,46.2 L1374.4,48.7 L1372.7,51.3 L1371.1,53.8 L1369.4,56.3 L1367.8,58.9 L1366.1,61.4 L1364.5,63.9 L1362.9,66.5 L1361.3,69.0 L1359.7,71.6 L1358.1,74.2 L1356.5,76.7 L1354.9,79.3 L1353.3,81.9 L1351.7,84.4 L1350.1,87.0 L1348.6,89.6 L1347.0,92.2 L1345.4,94.8 L1343.9,97.4 L1342.4,100.0 L1340.8,102.6 L1339.3,105.2 L1337.8,107.8 L1336.3,110.4 L1334.8,113.1 L1333.3,115.7 L1331.8,118.3 L1330.3,121.0 L1328.8,123.6 L1327.4,126.2 L1325.9,128.9 L1324.5,131.5 L1323.0,134.2 L1321.6,136.9 L1320.2,139.5 L1318.8,142.2 L1317.4,144.9 L1316.0,147.5 L1314.6,150.2 L1313.2,152.9 L1311.8,155.6 L1310.5,158.3 L1309.1,161.0 L1307.8,163.7 L1306.4,166.4 L1305.1,169.1 L1303.8,171.9 L1302.5,174.6 L1301.2,177.3 L1299.9,180.0 L1298.6,182.8 L1297.3,185.5 L1296.1,188.3 L1294.8,191.0 L1293.6,193.8 L1292.3,196.5 L1291.1,199.3 L1289.9,202.1 L1288.7,204.8 L1287.5,207.6 L1286.3,210.4 L1285.1,213.2 L1283.9,216.0 L1282.8,218.7 L1281.6,221.5 L1280.5,224.3 L1279.4,227.1 L1278.2,229.9 L1277.1,232.8 L1276.0,235.6 L1274.9,238.4 L1273.8,241.2 L1272.8,244.0 L1271.7,246.9 L1270.6,249.7 L1269.6,252.5 L1268.6,255.4 L1267.5,258.2 L1266.5,261.0 L1265.5,263.9 L1264.5,266.7 L1263.5,269.6 L1262.5,272.5 L1261.5,275.3 L1260.6,278.2 L1259.6,281.0 L1258.7,283.9 L1257.7,286.8 L1256.8,289.7 L1255.9,292.5 L1254.9,295.4 L1254.0,298.3 L1253.1,301.2 L1252.2,304.1 L1251.4,307.0 L1250.5,309.8 L1249.6,312.7 L1248.7,315.6 L1247.9,318.5 L1247.0,321.4 L1246.2,324.3 L1245.3,327.2 L1244.5,330.1 L1243.7,333.1 L1242.9,336.0 L1242.1,338.9 L1241.3,341.8 L1240.5,344.7 L1239.7,347.6 L1238.9,350.5 L1238.1,353.5 L1237.3,356.4 L1236.5,359.3 L1235.8,362.2 L1235.0,365.1 L1234.2,368.1 L1233.5,371.0 L1232.7,373.9 L1231.9,376.8 L1231.2,379.8 L1230.4,382.7 L1229.7,385.6 L1228.9,388.5 L1228.1,391.5 L1227.4,394.4 L1226.6,397.3 L1225.8,400.2 L1225.0,403.1 L1224.2,406.0 L1223.4,409.0 L1222.5,411.9 L1221.7,414.8 L1220.8,417.7 L1220.0,420.5 L1219.1,423.4 L1218.1,426.3 L1217.2,429.2 L1216.2,432.1 L1215.3,434.9 L1214.3,437.8 L1213.2,440.6 L1212.1,443.4 L1211.0,446.2 L1209.9,449.0 L1208.7,451.8 L1207.5,454.6 L1206.2,457.3 L1204.9,460.0 L1203.6,462.7 L1202.1,465.4 L1200.6,468.0 L1199.1,470.6 L1197.5,473.2 L1195.7,475.7 L1193.9,478.1 L1192.1,480.4 L1190.1,482.7 L1188.0,484.9 L1185.8,487.0 L1183.6,489.1 L1181.3,491.0 L1178.9,492.9 L1176.5,494.6 L1174.0,496.3 L1171.4,498.0 L1168.8,499.5 L1166.2,501.0 L1163.5,502.5 L1160.9,503.9 L1158.1,505.2 L1155.4,506.5 L1152.7,507.8 L1149.9,509.0 L1147.1,510.2 L1144.3,511.3 L1141.5,512.5 L1138.7,513.6 L1135.9,514.7 L1133.1,515.7 L1130.2,516.8 L1127.4,517.8 L1124.6,518.8 L1121.7,519.8 L1118.8,520.8 L1116.0,521.8 L1113.1,522.8 L1110.3,523.8 L1107.4,524.8 L1104.6,525.8 L1101.8,526.8 L1098.9,527.9 L1096.0,528.8 L1093.2,529.8" stroke="#1544a0"/>
<path d="M1386.6,46.2 L1385.0,48.8 L1383.3,51.3 L1381.7,53.9 L1380.1,56.4 L1378.5,59.0 L1377.0,61.6 L1375.4,64.2 L1373.8,66.7 L1372.2,69.3 L1370.7,71.9 L1369.1,74.5 L1367.6,77.1 L1366.0,79.7 L1364.5,82.3 L1363.0,84.9 L1361.5,87.6 L1360.0,90.2 L1358.5,92.8 L1357.0,95.4 L1355.5,98.1 L1354.0,100.7 L1352.6,103.3 L1351.1,106.0 L1349.6,108.7 L1348.2,111.3 L1346.8,114.0 L1345.4,116.6 L1343.9,119.3 L1342.5,122.0 L1341.1,124.7 L1339.7,127.4 L1338.4,130.0 L1337.0,132.7 L1335.6,135.4 L1334.3,138.1 L1333.0,140.9 L1331.6,143.6 L1330.3,146.3 L1329.0,149.0 L1327.7,151.7 L1326.4,154.5 L1325.1,157.2 L1323.9,160.0 L1322.6,162.7 L1321.4,165.5 L1320.1,168.2 L1318.9,171.0 L1317.7,173.8 L1316.5,176.5 L1315.3,179.3 L1314.1,182.1 L1312.9,184.9 L1311.8,187.7 L1310.6,190.5 L1309.5,193.3 L1308.4,196.1 L1307.3,198.9 L1306.2,201.7 L1305.1,204.5 L1304.0,207.4 L1303.0,210.2 L1301.9,213.0 L1300.9,215.9 L1299.9,218.7 L1298.8,221.6 L1297.8,224.4 L1296.9,227.3 L1295.9,230.1 L1294.9,233.0 L1294.0,235.9 L1293.0,238.7 L1292.1,241.6 L1291.2,244.5 L1290.3,247.4 L1289.4,250.3 L1288.6,253.2 L1287.7,256.1 L1286.9,259.0 L1286.0,261.9 L1285.2,264.8 L1284.4,267.7 L1283.6,270.6 L1282.8,273.6 L1282.1,276.5 L1281.3,279.4 L1280.6,282.4 L1279.9,285.3 L1279.2,288.2 L1278.5,291.2 L1277.8,294.1 L1277.2,297.1 L1276.5,300.0 L1275.9,303.0 L1275.3,305.9 L1274.7,308.9 L1274.1,311.9 L1273.5,314.8 L1272.9,317.8 L1272.4,320.8 L1271.9,323.8 L1271.4,326.7 L1270.9,329.7 L1270.4,332.7 L1269.9,335.7 L1269.5,338.7 L1269.0,341.7 L1268.6,344.7 L1268.2,347.7 L1267.8,350.7 L1267.4,353.7 L1267.1,356.7 L1266.7,359.7 L1266.4,362.7 L1266.1,365.7 L1265.8,368.7 L1265.6,371.7 L1265.3,374.7 L1265.1,377.7 L1264.9,380.7 L1264.7,383.8 L1264.5,386.8 L1264.4,389.8 L1264.3,392.8 L1264.2,395.8 L1264.1,398.9 L1264.1,401.9 L1264.1,404.9 L1264.1,407.9 L1264.1,411.0 L1264.2,414.0 L1264.4,417.0 L1264.5,420.0 L1264.7,423.0 L1265.0,426.0 L1265.3,429.1 L1265.6,432.1 L1266.0,435.1 L1266.4,438.1 L1266.9,441.0 L1267.4,444.0 L1268.0,447.0 L1268.6,449.9 L1269.3,452.9 L1270.1,455.8 L1270.9,458.7 L1271.8,461.6 L1272.8,464.5 L1273.9,467.3 L1275.0,470.1 L1276.3,472.8 L1277.7,475.5 L1279.2,478.1 L1280.8,480.7 L1282.5,483.2 L1284.4,485.5 L1286.4,487.8 L1288.4,490.0 L1290.6,492.1 L1292.9,494.1 L1295.2,496.0 L1297.7,497.8 L1300.1,499.6 L1302.6,501.3 L1305.2,502.9 L1307.8,504.4 L1310.4,505.9 L1313.1,507.4 L1315.8,508.8 L1318.4,510.1 L1321.2,511.5 L1323.9,512.8 L1326.6,514.0 L1329.4,515.3 L1332.2,516.5 L1334.9,517.7 L1337.7,518.9 L1340.5,520.1 L1343.3,521.2 L1346.1,522.4 L1348.8,523.6 L1351.6,524.8 L1354.4,526.0 L1357.1,527.3 L1359.9,528.5 L1362.7,529.7" stroke="#1544a0"/>
</g>
<rect x="948.2" y="62.5" width="606.1" height="488.9" fill="none" stroke="#000" stroke-width="3.4"/>
<path d="M1150.2,551.4 V540.9 M1454.0,551.4 V540.9 M998.4,551.4 V545.6 M1302.2,551.4 V545.6 M948.2,306.9 H958.7 M948.2,184.7 H954.0 M948.2,429.2 H954.0" stroke="#000" stroke-width="3.3" fill="none"/>
<text x="1136.8 1146.8 1163.8" y="585.6" text-anchor="middle" font-size="28.5" font-family="Liberation Serif, serif">3.6</text>
<text x="1440.6 1450.6 1467.6" y="585.6" text-anchor="middle" font-size="28.5" font-family="Liberation Serif, serif">4.5</text>
<text x="889.6 899.5 916.6 930.2" y="73.5" text-anchor="middle" font-size="28.5" font-family="Liberation Serif, serif">0.90</text>
<text x="889.6 899.5 916.6 930.2" y="317.9" text-anchor="middle" font-size="28.5" font-family="Liberation Serif, serif">0.45</text>
<text x="889.6 899.5 916.6 930.2" y="562.4" text-anchor="middle" font-size="28.5" font-family="Liberation Serif, serif">0.00</text>
<text x="1283.9" y="626.7" text-anchor="middle" font-size="34" font-family="Liberation Serif, serif"><tspan font-style="italic">Ω</tspan> (kHz)</text>
<text transform="translate(850.7,294.7) rotate(-90)" text-anchor="middle" font-size="34" font-family="Liberation Serif, serif"><tspan font-style="italic">A</tspan> (m)</text>
<line x1="971.2" x2="1059.2" y1="95.3" y2="95.3" stroke="#000" stroke-width="3.0"/>
<text x="1079.0" y="110.4" font-size="42" font-family="Liberation Serif, serif"><tspan font-style="italic">e</tspan><tspan font-size="27.7" dx="1.5" dy="12.5">1</tspan><tspan dx="0.5" dy="-12.5">=</tspan><tspan dx="0.5">0</tspan></text>
<line x1="971.2" x2="1059.2" y1="211.4" y2="211.4" stroke="#e60012" stroke-width="3.0"/>
<text x="1079.0" y="226.5" font-size="42" font-family="Liberation Serif, serif"><tspan font-style="italic">e</tspan><tspan font-size="27.7" dx="1.5" dy="12.5">1</tspan><tspan dx="0.5" dy="-12.5">=</tspan><tspan dx="0.5">0.3</tspan></text>
<line x1="971.2" x2="1059.2" y1="274.6" y2="274.6" stroke="#1544a0" stroke-width="3.0"/>
<text x="1079.0" y="289.7" font-size="42" font-family="Liberation Serif, serif"><tspan font-style="italic">e</tspan><tspan font-size="27.7" dx="1.5" dy="12.5">1</tspan><tspan dx="0.5" dy="-12.5">=</tspan><tspan dx="0.5">0.6</tspan></text>
<text x="970.6" y="164.0" font-size="33" font-family="Liberation Serif, Noto Serif CJK SC, serif">(<tspan dx="4.5">without porosity</tspan><tspan dx="2.5">)</tspan></text>
<text x="829.0" y="29.3" font-size="32" font-family="Liberation Serif, serif">b</text>
</g>
<g id="panel-c">
<clipPath id="clip-c"><rect x="139.7" y="687.6" width="607.0" height="488.6"/></clipPath>
<g clip-path="url(#clip-c)" fill="none" stroke-width="2.4" stroke-linejoin="round" stroke-linecap="butt">
<path d="M521.0,671.3 L522.7,673.9 L524.3,676.4 L525.9,679.0 L527.5,681.6 L529.0,684.2 L530.6,686.8 L532.1,689.4 L533.7,692.0 L535.2,694.6 L536.7,697.2 L538.2,699.9 L539.7,702.5 L541.2,705.1 L542.6,707.8 L544.1,710.4 L545.6,713.1 L547.0,715.8 L548.4,718.4 L549.8,721.1 L551.2,723.8 L552.6,726.5 L554.0,729.2 L555.4,731.9 L556.7,734.6 L558.1,737.3 L559.4,740.0 L560.7,742.7 L562.0,745.5 L563.3,748.2 L564.6,750.9 L565.9,753.7 L567.2,756.4 L568.4,759.2 L569.7,761.9 L570.9,764.7 L572.2,767.5 L573.4,770.2 L574.6,773.0 L575.8,775.8 L577.0,778.6 L578.2,781.4 L579.3,784.2 L580.5,787.0 L581.7,789.8 L582.8,792.6 L583.9,795.4 L585.0,798.2 L586.2,801.0 L587.3,803.8 L588.3,806.6 L589.4,809.5 L590.5,812.3 L591.6,815.1 L592.6,818.0 L593.7,820.8 L594.7,823.7 L595.7,826.5 L596.7,829.4 L597.7,832.2 L598.7,835.1 L599.7,838.0 L600.7,840.8 L601.6,843.7 L602.6,846.6 L603.5,849.4 L604.5,852.3 L605.4,855.2 L606.3,858.1 L607.2,861.0 L608.1,863.9 L609.0,866.8 L609.9,869.7 L610.8,872.6 L611.6,875.5 L612.5,878.4 L613.3,881.3 L614.1,884.2 L615.0,887.1 L615.8,890.0 L616.6,892.9 L617.4,895.9 L618.1,898.8 L618.9,901.7 L619.7,904.7 L620.4,907.6 L621.1,910.5 L621.9,913.5 L622.6,916.4 L623.3,919.4 L624.0,922.3 L624.7,925.3 L625.3,928.2 L626.0,931.2 L626.7,934.1 L627.3,937.1 L627.9,940.0 L628.5,943.0 L629.1,946.0 L629.7,948.9 L630.3,951.9 L630.9,954.9 L631.5,957.9 L632.0,960.8 L632.5,963.8 L633.1,966.8 L633.6,969.8 L634.1,972.8 L634.6,975.8 L635.0,978.7 L635.5,981.7 L636.0,984.7 L636.4,987.7 L636.8,990.7 L637.2,993.7 L637.6,996.7 L638.0,999.7 L638.4,1002.7 L638.7,1005.7 L639.0,1008.8 L639.4,1011.8 L639.6,1014.8 L639.9,1017.8 L640.2,1020.8 L640.4,1023.8 L640.6,1026.9 L640.8,1029.9 L641.0,1032.9 L641.1,1035.9 L641.2,1039.0 L641.3,1042.0 L641.3,1045.0 L641.3,1048.0 L641.3,1051.1 L641.3,1054.1 L641.2,1057.1 L641.1,1060.1 L640.9,1063.2 L640.7,1066.2 L640.5,1069.2 L640.2,1072.2 L639.9,1075.2 L639.5,1078.2 L639.0,1081.2 L638.5,1084.2 L638.0,1087.2 L637.3,1090.1 L636.6,1093.1 L635.8,1096.0 L634.9,1098.9 L633.8,1101.7 L632.7,1104.5 L631.4,1107.3 L630.0,1110.0 L628.4,1112.6 L626.7,1115.1 L624.9,1117.5 L623.0,1119.8 L620.9,1122.0 L618.7,1124.1 L616.5,1126.1 L614.2,1128.1 L611.8,1130.0 L609.3,1131.7 L606.9,1133.5 L604.3,1135.2 L601.8,1136.8 L599.2,1138.3 L596.6,1139.9 L593.9,1141.4 L591.3,1142.8 L588.6,1144.2 L585.9,1145.7 L583.3,1147.1 L580.6,1148.5 L577.9,1149.9 L575.3,1151.4 L572.6,1152.8 L569.9,1154.2" stroke="#000"/>
<path d="M530.4,671.3 L532.0,673.9 L533.7,676.4 L535.3,679.0 L536.9,681.5 L538.5,684.1 L540.1,686.7 L541.6,689.3 L543.2,691.8 L544.7,694.4 L546.3,697.1 L547.8,699.7 L549.3,702.3 L550.8,704.9 L552.3,707.5 L553.8,710.2 L555.3,712.8 L556.8,715.5 L558.2,718.1 L559.7,720.8 L561.1,723.4 L562.5,726.1 L563.9,728.8 L565.3,731.4 L566.7,734.1 L568.1,736.8 L569.5,739.5 L570.8,742.2 L572.2,744.9 L573.5,747.6 L574.9,750.3 L576.2,753.1 L577.5,755.8 L578.8,758.5 L580.1,761.2 L581.4,764.0 L582.7,766.7 L584.0,769.5 L585.2,772.2 L586.5,775.0 L587.7,777.7 L589.0,780.5 L590.2,783.3 L591.4,786.0 L592.6,788.8 L593.8,791.6 L595.0,794.4 L596.2,797.1 L597.4,799.9 L598.5,802.7 L599.7,805.5 L600.8,808.3 L602.0,811.1 L603.1,813.9 L604.2,816.7 L605.4,819.5 L606.5,822.4 L607.6,825.2 L608.7,828.0 L609.7,830.8 L610.8,833.6 L611.9,836.5 L613.0,839.3 L614.0,842.1 L615.1,845.0 L616.1,847.8 L617.1,850.7 L618.1,853.5 L619.2,856.4 L620.2,859.2 L621.2,862.1 L622.2,864.9 L623.2,867.8 L624.1,870.6 L625.1,873.5 L626.1,876.4 L627.0,879.2 L628.0,882.1 L628.9,885.0 L629.9,887.9 L630.8,890.7 L631.7,893.6 L632.6,896.5 L633.5,899.4 L634.4,902.3 L635.3,905.2 L636.2,908.1 L637.1,911.0 L638.0,913.9 L638.9,916.8 L639.7,919.7 L640.6,922.6 L641.4,925.5 L642.3,928.4 L643.1,931.3 L643.9,934.2 L644.8,937.1 L645.6,940.0 L646.4,942.9 L647.2,945.8 L648.0,948.7 L648.8,951.7 L649.6,954.6 L650.4,957.5 L651.2,960.4 L651.9,963.3 L652.7,966.3 L653.5,969.2 L654.2,972.1 L655.0,975.1 L655.7,978.0 L656.5,980.9 L657.2,983.9 L657.9,986.8 L658.7,989.7 L659.4,992.7 L660.1,995.6 L660.8,998.5 L661.5,1001.5 L662.2,1004.4 L663.0,1007.4 L663.7,1010.3 L664.4,1013.2 L665.1,1016.2 L665.8,1019.1 L666.5,1022.1 L667.2,1025.0 L667.9,1027.9 L668.7,1030.9 L669.4,1033.8 L670.1,1036.8 L670.9,1039.7 L671.6,1042.6 L672.4,1045.6 L673.1,1048.5 L673.9,1051.4 L674.7,1054.3 L675.5,1057.2 L676.3,1060.2 L677.1,1063.1 L678.0,1066.0 L678.9,1068.9 L679.8,1071.8 L680.7,1074.6 L681.6,1077.5 L682.6,1080.4 L683.6,1083.2 L684.6,1086.1 L685.7,1088.9 L686.8,1091.7 L688.0,1094.5 L689.2,1097.3 L690.5,1100.0 L691.9,1102.7 L693.3,1105.4 L694.8,1108.0 L696.5,1110.5 L698.2,1113.0 L700.1,1115.4 L702.0,1117.7 L704.0,1119.9 L706.1,1122.1 L708.3,1124.2 L710.6,1126.2 L712.9,1128.2 L715.3,1130.1 L717.7,1131.9 L720.1,1133.7 L722.6,1135.4 L725.1,1137.1 L727.6,1138.7 L730.2,1140.3 L732.8,1141.9 L735.4,1143.5 L738.0,1145.0 L740.6,1146.6 L743.2,1148.1 L745.7,1149.7 L748.3,1151.3 L750.9,1152.9 L753.5,1154.5" stroke="#000"/>
<path d="M438.1,671.3 L439.8,673.8 L441.5,676.3 L443.2,678.9 L444.8,681.4 L446.5,683.9 L448.1,686.5 L449.8,689.0 L451.4,691.6 L453.0,694.1 L454.6,696.7 L456.2,699.3 L457.8,701.8 L459.4,704.4 L461.0,707.0 L462.5,709.6 L464.1,712.2 L465.6,714.8 L467.2,717.4 L468.7,720.0 L470.2,722.7 L471.7,725.3 L473.2,727.9 L474.7,730.5 L476.2,733.2 L477.6,735.8 L479.1,738.5 L480.5,741.1 L482.0,743.8 L483.4,746.5 L484.8,749.2 L486.2,751.8 L487.6,754.5 L489.0,757.2 L490.4,759.9 L491.8,762.6 L493.1,765.3 L494.5,768.0 L495.8,770.7 L497.2,773.4 L498.5,776.2 L499.8,778.9 L501.1,781.6 L502.4,784.4 L503.7,787.1 L505.0,789.9 L506.2,792.6 L507.5,795.4 L508.7,798.1 L509.9,800.9 L511.2,803.7 L512.4,806.4 L513.6,809.2 L514.8,812.0 L516.0,814.8 L517.1,817.6 L518.3,820.4 L519.4,823.2 L520.6,826.0 L521.7,828.8 L522.8,831.6 L523.9,834.4 L525.0,837.2 L526.1,840.1 L527.2,842.9 L528.3,845.7 L529.3,848.6 L530.4,851.4 L531.4,854.2 L532.4,857.1 L533.5,859.9 L534.5,862.8 L535.5,865.7 L536.4,868.5 L537.4,871.4 L538.4,874.3 L539.3,877.1 L540.3,880.0 L541.2,882.9 L542.1,885.8 L543.0,888.7 L543.9,891.6 L544.8,894.5 L545.6,897.4 L546.5,900.3 L547.3,903.2 L548.2,906.1 L549.0,909.0 L549.8,911.9 L550.6,914.8 L551.4,917.8 L552.2,920.7 L552.9,923.6 L553.7,926.5 L554.4,929.5 L555.1,932.4 L555.9,935.4 L556.5,938.3 L557.2,941.3 L557.9,944.2 L558.6,947.2 L559.2,950.1 L559.8,953.1 L560.5,956.0 L561.1,959.0 L561.7,962.0 L562.2,965.0 L562.8,967.9 L563.4,970.9 L563.9,973.9 L564.4,976.9 L564.9,979.8 L565.4,982.8 L565.9,985.8 L566.4,988.8 L566.8,991.8 L567.2,994.8 L567.6,997.8 L568.0,1000.8 L568.4,1003.8 L568.8,1006.8 L569.1,1009.8 L569.4,1012.8 L569.7,1015.9 L570.0,1018.9 L570.2,1021.9 L570.5,1024.9 L570.7,1027.9 L570.8,1030.9 L571.0,1034.0 L571.1,1037.0 L571.1,1040.0 L571.2,1043.1 L571.2,1046.1 L571.2,1049.1 L571.1,1052.1 L571.0,1055.2 L570.9,1058.2 L570.7,1061.2 L570.4,1064.2 L570.1,1067.2 L569.8,1070.2 L569.4,1073.2 L569.0,1076.2 L568.5,1079.2 L567.9,1082.2 L567.3,1085.2 L566.5,1088.1 L565.7,1091.0 L564.8,1093.9 L563.8,1096.8 L562.7,1099.6 L561.5,1102.4 L560.1,1105.1 L558.7,1107.7 L557.0,1110.2 L555.2,1112.7 L553.3,1115.0 L551.3,1117.3 L549.2,1119.4 L546.9,1121.5 L544.6,1123.4 L542.2,1125.3 L539.8,1127.1 L537.3,1128.8 L534.8,1130.4 L532.2,1132.0 L529.6,1133.5 L526.9,1135.0 L524.2,1136.4 L521.5,1137.8 L518.8,1139.1 L516.1,1140.5 L513.4,1141.7 L510.6,1143.0 L507.8,1144.2 L505.1,1145.5 L502.3,1146.7 L499.5,1147.9 L496.8,1149.1 L494.0,1150.4 L491.2,1151.6 L488.5,1152.8 L485.7,1154.0 L482.9,1155.2" stroke="#e60012"/>
<path d="M449.4,671.3 L451.1,673.8 L452.8,676.3 L454.5,678.8 L456.2,681.3 L457.9,683.9 L459.6,686.4 L461.2,688.9 L462.9,691.5 L464.5,694.0 L466.2,696.6 L467.8,699.1 L469.4,701.7 L471.0,704.2 L472.6,706.8 L474.2,709.4 L475.8,712.0 L477.4,714.5 L478.9,717.1 L480.5,719.7 L482.1,722.3 L483.6,724.9 L485.1,727.6 L486.7,730.2 L488.2,732.8 L489.7,735.4 L491.2,738.1 L492.7,740.7 L494.2,743.3 L495.6,746.0 L497.1,748.6 L498.6,751.3 L500.0,754.0 L501.4,756.6 L502.9,759.3 L504.3,762.0 L505.7,764.6 L507.1,767.3 L508.5,770.0 L509.9,772.7 L511.3,775.4 L512.7,778.1 L514.0,780.8 L515.4,783.5 L516.7,786.2 L518.1,789.0 L519.4,791.7 L520.7,794.4 L522.0,797.1 L523.3,799.9 L524.6,802.6 L525.9,805.4 L527.2,808.1 L528.4,810.9 L529.7,813.6 L531.0,816.4 L532.2,819.1 L533.4,821.9 L534.7,824.7 L535.9,827.4 L537.1,830.2 L538.3,833.0 L539.5,835.8 L540.7,838.6 L541.9,841.4 L543.0,844.2 L544.2,847.0 L545.3,849.8 L546.5,852.6 L547.6,855.4 L548.7,858.2 L549.9,861.0 L551.0,863.8 L552.1,866.7 L553.2,869.5 L554.3,872.3 L555.3,875.1 L556.4,878.0 L557.5,880.8 L558.5,883.6 L559.6,886.5 L560.6,889.3 L561.6,892.2 L562.7,895.0 L563.7,897.9 L564.7,900.7 L565.7,903.6 L566.7,906.5 L567.7,909.3 L568.7,912.2 L569.6,915.1 L570.6,917.9 L571.5,920.8 L572.5,923.7 L573.4,926.6 L574.4,929.5 L575.3,932.3 L576.2,935.2 L577.1,938.1 L578.0,941.0 L578.9,943.9 L579.8,946.8 L580.7,949.7 L581.6,952.6 L582.5,955.5 L583.3,958.4 L584.2,961.3 L585.1,964.2 L585.9,967.1 L586.7,970.0 L587.6,972.9 L588.4,975.9 L589.2,978.8 L590.0,981.7 L590.9,984.6 L591.7,987.5 L592.5,990.5 L593.3,993.4 L594.1,996.3 L594.9,999.2 L595.6,1002.1 L596.4,1005.1 L597.2,1008.0 L598.0,1010.9 L598.8,1013.9 L599.6,1016.8 L600.4,1019.7 L601.2,1022.6 L601.9,1025.6 L602.7,1028.5 L603.5,1031.4 L604.4,1034.3 L605.2,1037.2 L606.0,1040.2 L606.8,1043.1 L607.7,1046.0 L608.5,1048.9 L609.4,1051.8 L610.3,1054.7 L611.2,1057.6 L612.1,1060.5 L613.0,1063.4 L614.0,1066.2 L615.0,1069.1 L616.0,1072.0 L617.0,1074.8 L618.0,1077.6 L619.1,1080.5 L620.2,1083.3 L621.4,1086.1 L622.6,1088.9 L623.8,1091.6 L625.2,1094.4 L626.5,1097.1 L628.0,1099.7 L629.5,1102.4 L631.1,1104.9 L632.8,1107.4 L634.6,1109.9 L636.4,1112.3 L638.4,1114.6 L640.5,1116.8 L642.6,1118.9 L644.9,1121.0 L647.1,1123.0 L649.5,1124.9 L651.9,1126.7 L654.4,1128.5 L656.9,1130.2 L659.4,1131.9 L662.0,1133.5 L664.5,1135.0 L667.2,1136.6 L669.8,1138.1 L672.4,1139.6 L675.1,1141.0 L677.8,1142.4 L680.5,1143.8 L683.2,1145.2 L685.8,1146.6 L688.5,1148.0 L691.2,1149.4 L693.9,1150.9 L696.5,1152.3 L699.2,1153.8 L701.9,1155.1" stroke="#e60012"/>
<path d="M356.5,671.3 L358.4,673.7 L360.2,676.1 L362.1,678.5 L364.0,680.8 L365.8,683.3 L367.6,685.7 L369.5,688.1 L371.3,690.5 L373.1,692.9 L374.9,695.4 L376.7,697.8 L378.4,700.3 L380.2,702.7 L382.0,705.2 L383.7,707.7 L385.4,710.2 L387.2,712.7 L388.9,715.2 L390.6,717.7 L392.3,720.2 L394.0,722.7 L395.6,725.2 L397.3,727.7 L399.0,730.3 L400.6,732.8 L402.2,735.4 L403.9,737.9 L405.5,740.5 L407.1,743.1 L408.7,745.6 L410.2,748.2 L411.8,750.8 L413.4,753.4 L414.9,756.0 L416.5,758.6 L418.0,761.2 L419.5,763.9 L421.0,766.5 L422.5,769.1 L424.0,771.8 L425.5,774.4 L427.0,777.1 L428.4,779.7 L429.9,782.4 L431.3,785.0 L432.7,787.7 L434.1,790.4 L435.5,793.1 L436.9,795.8 L438.3,798.5 L439.7,801.2 L441.0,803.9 L442.4,806.6 L443.7,809.3 L445.1,812.0 L446.4,814.8 L447.7,817.5 L449.0,820.2 L450.3,823.0 L451.5,825.7 L452.8,828.5 L454.0,831.2 L455.3,834.0 L456.5,836.8 L457.7,839.5 L458.9,842.3 L460.1,845.1 L461.3,847.9 L462.5,850.7 L463.6,853.5 L464.8,856.3 L465.9,859.1 L467.0,861.9 L468.1,864.7 L469.2,867.6 L470.3,870.4 L471.4,873.2 L472.5,876.1 L473.5,878.9 L474.5,881.7 L475.6,884.6 L476.6,887.4 L477.6,890.3 L478.6,893.2 L479.5,896.0 L480.5,898.9 L481.5,901.8 L482.4,904.7 L483.3,907.6 L484.2,910.4 L485.1,913.3 L486.0,916.2 L486.9,919.1 L487.7,922.0 L488.6,925.0 L489.4,927.9 L490.2,930.8 L491.0,933.7 L491.8,936.6 L492.6,939.6 L493.3,942.5 L494.1,945.4 L494.8,948.4 L495.5,951.3 L496.2,954.3 L496.9,957.2 L497.5,960.2 L498.2,963.1 L498.8,966.1 L499.4,969.1 L500.0,972.0 L500.6,975.0 L501.2,978.0 L501.8,981.0 L502.3,983.9 L502.8,986.9 L503.3,989.9 L503.8,992.9 L504.3,995.9 L504.7,998.9 L505.1,1001.9 L505.5,1004.9 L505.9,1007.9 L506.2,1010.9 L506.6,1013.9 L506.9,1016.9 L507.1,1019.9 L507.4,1023.0 L507.6,1026.0 L507.8,1029.0 L507.9,1032.0 L508.0,1035.1 L508.1,1038.1 L508.1,1041.1 L508.1,1044.2 L508.1,1047.2 L508.0,1050.2 L507.8,1053.2 L507.7,1056.3 L507.4,1059.3 L507.1,1062.3 L506.8,1065.3 L506.4,1068.3 L505.9,1071.3 L505.3,1074.3 L504.7,1077.2 L504.1,1080.2 L503.3,1083.1 L502.5,1086.0 L501.5,1088.9 L500.5,1091.8 L499.4,1094.6 L498.1,1097.3 L496.7,1100.0 L495.2,1102.7 L493.6,1105.2 L491.9,1107.7 L490.0,1110.0 L487.9,1112.3 L485.8,1114.4 L483.6,1116.5 L481.2,1118.4 L478.8,1120.3 L476.4,1122.0 L473.8,1123.7 L471.3,1125.3 L468.6,1126.8 L466.0,1128.3 L463.3,1129.7 L460.6,1131.0 L457.8,1132.3 L455.1,1133.6 L452.3,1134.8 L449.5,1136.0 L446.7,1137.1 L443.9,1138.3 L441.1,1139.4 L438.3,1140.4 L435.4,1141.5 L432.6,1142.5 L429.7,1143.5 L426.8,1144.5 L424.0,1145.5 L421.1,1146.5 L418.3,1147.5 L415.4,1148.5 L412.5,1149.5 L409.7,1150.5 L406.8,1151.5 L404.0,1152.5 L401.1,1153.4 L398.2,1154.4 L395.3,1155.3" stroke="#1544a0"/>
<path d="M371.0,671.3 L372.9,673.7 L374.7,676.0 L376.6,678.4 L378.5,680.7 L380.3,683.1 L382.2,685.5 L384.0,687.9 L385.9,690.3 L387.7,692.7 L389.5,695.1 L391.3,697.5 L393.1,699.9 L394.9,702.4 L396.6,704.8 L398.4,707.3 L400.2,709.7 L401.9,712.2 L403.7,714.6 L405.4,717.1 L407.1,719.6 L408.8,722.1 L410.5,724.5 L412.2,727.0 L413.9,729.5 L415.6,732.0 L417.2,734.6 L418.9,737.1 L420.6,739.6 L422.2,742.1 L423.8,744.7 L425.4,747.2 L427.1,749.8 L428.7,752.3 L430.3,754.9 L431.8,757.4 L433.4,760.0 L435.0,762.6 L436.6,765.2 L438.1,767.8 L439.6,770.3 L441.2,772.9 L442.7,775.5 L444.2,778.2 L445.7,780.8 L447.2,783.4 L448.7,786.0 L450.2,788.6 L451.6,791.3 L453.1,793.9 L454.6,796.5 L456.0,799.2 L457.4,801.9 L458.9,804.5 L460.3,807.2 L461.7,809.8 L463.1,812.5 L464.5,815.2 L465.9,817.9 L467.2,820.6 L468.6,823.2 L469.9,825.9 L471.3,828.6 L472.6,831.3 L474.0,834.0 L475.3,836.8 L476.6,839.5 L477.9,842.2 L479.2,844.9 L480.5,847.6 L481.7,850.4 L483.0,853.1 L484.3,855.8 L485.5,858.6 L486.8,861.3 L488.0,864.1 L489.2,866.8 L490.4,869.6 L491.7,872.4 L492.9,875.1 L494.0,877.9 L495.2,880.7 L496.4,883.5 L497.6,886.2 L498.7,889.0 L499.9,891.8 L501.0,894.6 L502.2,897.4 L503.3,900.2 L504.4,903.0 L505.5,905.8 L506.6,908.6 L507.7,911.4 L508.8,914.2 L509.9,917.0 L511.0,919.9 L512.0,922.7 L513.1,925.5 L514.1,928.3 L515.2,931.2 L516.2,934.0 L517.2,936.8 L518.3,939.7 L519.3,942.5 L520.3,945.3 L521.3,948.2 L522.3,951.0 L523.3,953.9 L524.3,956.7 L525.2,959.6 L526.2,962.4 L527.2,965.3 L528.1,968.2 L529.1,971.0 L530.0,973.9 L530.9,976.8 L531.9,979.6 L532.8,982.5 L533.7,985.4 L534.6,988.2 L535.5,991.1 L536.4,994.0 L537.3,996.9 L538.2,999.7 L539.1,1002.6 L540.0,1005.5 L540.9,1008.4 L541.8,1011.3 L542.7,1014.1 L543.6,1017.0 L544.5,1019.9 L545.4,1022.8 L546.3,1025.7 L547.2,1028.5 L548.2,1031.4 L549.1,1034.3 L550.0,1037.1 L551.0,1040.0 L551.9,1042.9 L552.9,1045.7 L553.9,1048.6 L554.9,1051.4 L555.9,1054.2 L556.9,1057.1 L558.0,1059.9 L559.1,1062.7 L560.2,1065.5 L561.3,1068.3 L562.4,1071.1 L563.6,1073.9 L564.8,1076.6 L566.1,1079.4 L567.4,1082.1 L568.7,1084.8 L570.0,1087.5 L571.4,1090.2 L572.9,1092.8 L574.4,1095.4 L576.0,1098.0 L577.7,1100.5 L579.5,1103.0 L581.3,1105.4 L583.2,1107.7 L585.2,1110.0 L587.3,1112.1 L589.4,1114.2 L591.7,1116.3 L594.0,1118.2 L596.3,1120.1 L598.8,1121.9 L601.2,1123.6 L603.8,1125.2 L606.3,1126.9 L608.9,1128.4 L611.5,1129.9 L614.2,1131.4 L616.8,1132.8 L619.5,1134.2 L622.2,1135.5 L624.9,1136.8 L627.6,1138.1 L630.4,1139.4 L633.1,1140.6 L635.9,1141.9 L638.6,1143.1 L641.4,1144.3 L644.2,1145.5 L646.9,1146.7 L649.7,1147.9 L652.4,1149.1 L655.2,1150.3 L657.9,1151.6 L660.7,1152.8 L663.4,1154.1 L666.2,1155.2" stroke="#1544a0"/>
</g>
<rect x="139.7" y="687.6" width="607.0" height="488.6" fill="none" stroke="#000" stroke-width="2.8"/>
<path d="M167.1,1176.2 V1165.7 M415.3,1176.2 V1165.7 M663.3,1176.2 V1165.7 M291.3,1176.2 V1170.5 M539.3,1176.2 V1170.5 M139.7,931.9 H150.2 M139.7,809.8 H145.4 M139.7,1054.1 H145.4" stroke="#000" stroke-width="2.8" fill="none"/>
<text x="153.7 163.7 180.7" y="1210.4" text-anchor="middle" font-size="28.5" font-family="Liberation Serif, serif">1.8</text>
<text x="401.9 411.9 428.9" y="1210.4" text-anchor="middle" font-size="28.5" font-family="Liberation Serif, serif">2.7</text>
<text x="649.9 659.9 676.9" y="1210.4" text-anchor="middle" font-size="28.5" font-family="Liberation Serif, serif">3.6</text>
<text x="81.1 91.0 108.1 121.7" y="698.6" text-anchor="middle" font-size="28.5" font-family="Liberation Serif, serif">0.90</text>
<text x="81.1 91.0 108.1 121.7" y="942.9" text-anchor="middle" font-size="28.5" font-family="Liberation Serif, serif">0.45</text>
<text x="81.1 91.0 108.1 121.7" y="1187.2" text-anchor="middle" font-size="28.5" font-family="Liberation Serif, serif">0.00</text>
<text x="441.3" y="1264.5" text-anchor="middle" font-size="34" font-family="Liberation Serif, serif"><tspan font-style="italic">Ω</tspan> (kHz)</text>
<text transform="translate(43.2,953.6) rotate(-90)" text-anchor="middle" font-size="34" font-family="Liberation Serif, serif"><tspan font-style="italic">A</tspan> (m)</text>
<line x1="150.4" x2="237.6" y1="830.1" y2="830.1" stroke="#000" stroke-width="3.8"/>
<text x="258.2" y="845.4" font-size="42" font-family="Liberation Serif, serif"><tspan font-style="italic">e</tspan><tspan font-size="27.7" dx="1.5" dy="12.5">1</tspan><tspan dx="0.5" dy="-12.5">=</tspan><tspan dx="0.5">0</tspan></text>
<line x1="150.4" x2="237.6" y1="945.2" y2="945.2" stroke="#e60012" stroke-width="3.0"/>
<text x="258.2" y="960.4" font-size="42" font-family="Liberation Serif, serif"><tspan font-style="italic">e</tspan><tspan font-size="27.7" dx="1.5" dy="12.5">1</tspan><tspan dx="0.5" dy="-12.5">=</tspan><tspan dx="0.5">0.3</tspan></text>
<line x1="150.4" x2="237.6" y1="1008.3" y2="1008.3" stroke="#1544a0" stroke-width="3.0"/>
<text x="258.2" y="1023.6" font-size="42" font-family="Liberation Serif, serif"><tspan font-style="italic">e</tspan><tspan font-size="27.7" dx="1.5" dy="12.5">1</tspan><tspan dx="0.5" dy="-12.5">=</tspan><tspan dx="0.5">0.6</tspan></text>
<text x="151.0" y="899.0" font-size="33" font-family="Liberation Serif, Noto Serif CJK SC, serif">(<tspan dx="4.5">without porosity</tspan><tspan dx="2.5">)</tspan></text>
<text x="13.0" y="669.0" font-size="32" font-family="Liberation Serif, serif">c</text>
</g>
<g id="panel-d">
<clipPath id="clip-d"><rect x="946.8" y="687.6" width="605.4" height="488.6"/></clipPath>
<g clip-path="url(#clip-d)" fill="none" stroke-width="2.4" stroke-linejoin="round" stroke-linecap="butt">
<path d="M1581.1,671.3 L1578.9,673.4 L1576.7,675.4 L1574.5,677.5 L1572.3,679.5 L1570.1,681.6 L1567.9,683.6 L1565.7,685.7 L1563.5,687.8 L1561.3,689.9 L1559.1,692.0 L1557.0,694.0 L1554.8,696.1 L1552.6,698.2 L1550.5,700.3 L1548.3,702.4 L1546.2,704.5 L1544.0,706.7 L1541.9,708.8 L1539.7,710.9 L1537.6,713.0 L1535.5,715.2 L1533.4,717.3 L1531.2,719.5 L1529.1,721.6 L1527.0,723.8 L1524.9,725.9 L1522.8,728.1 L1520.7,730.3 L1518.7,732.5 L1516.6,734.7 L1514.5,736.9 L1512.5,739.1 L1510.4,741.3 L1508.4,743.5 L1506.3,745.7 L1504.3,747.9 L1502.2,750.1 L1500.2,752.4 L1498.2,754.6 L1496.2,756.9 L1494.2,759.1 L1492.2,761.4 L1490.2,763.7 L1488.2,765.9 L1486.3,768.2 L1484.3,770.5 L1482.4,772.8 L1480.4,775.1 L1478.5,777.4 L1476.6,779.7 L1474.6,782.0 L1472.7,784.4 L1470.8,786.7 L1468.9,789.1 L1467.0,791.4 L1465.2,793.8 L1463.3,796.1 L1461.4,798.5 L1459.6,800.9 L1457.7,803.3 L1455.9,805.7 L1454.1,808.1 L1452.3,810.5 L1450.5,812.9 L1448.7,815.3 L1446.9,817.8 L1445.1,820.2 L1443.4,822.7 L1441.6,825.1 L1439.9,827.6 L1438.2,830.1 L1436.5,832.5 L1434.8,835.0 L1433.1,837.5 L1431.4,840.0 L1429.7,842.5 L1428.0,845.0 L1426.4,847.6 L1424.8,850.1 L1423.1,852.6 L1421.5,855.2 L1419.9,857.7 L1418.3,860.3 L1416.7,862.9 L1415.2,865.4 L1413.6,868.0 L1412.1,870.6 L1410.5,873.2 L1409.0,875.8 L1407.5,878.4 L1406.0,881.0 L1404.5,883.7 L1403.1,886.3 L1401.6,888.9 L1400.2,891.6 L1398.7,894.2 L1397.3,896.9 L1395.9,899.6 L1394.5,902.2 L1393.1,904.9 L1391.8,907.6 L1390.4,910.3 L1389.1,913.0 L1387.7,915.7 L1386.4,918.4 L1385.1,921.1 L1383.8,923.8 L1382.5,926.6 L1381.3,929.3 L1380.0,932.0 L1378.8,934.8 L1377.5,937.5 L1376.3,940.3 L1375.1,943.1 L1373.9,945.8 L1372.7,948.6 L1371.5,951.4 L1370.4,954.1 L1369.2,956.9 L1368.1,959.7 L1366.9,962.5 L1365.8,965.3 L1364.7,968.1 L1363.6,970.9 L1362.5,973.7 L1361.5,976.6 L1360.4,979.4 L1359.3,982.2 L1358.3,985.0 L1357.2,987.9 L1356.2,990.7 L1355.2,993.5 L1354.2,996.4 L1353.1,999.2 L1352.1,1002.0 L1351.1,1004.9 L1350.1,1007.7 L1349.2,1010.6 L1348.2,1013.4 L1347.2,1016.3 L1346.2,1019.1 L1345.2,1022.0 L1344.2,1024.8 L1343.2,1027.7 L1342.2,1030.5 L1341.2,1033.3 L1340.2,1036.2 L1339.2,1039.0 L1338.1,1041.8 L1337.1,1044.7 L1336.0,1047.5 L1334.9,1050.3 L1333.9,1053.1 L1332.7,1055.9 L1331.6,1058.7 L1330.5,1061.5 L1329.3,1064.3 L1328.1,1067.1 L1326.9,1069.8 L1325.6,1072.6 L1324.3,1075.3 L1323.0,1078.0 L1321.7,1080.7 L1320.3,1083.4 L1318.8,1086.0 L1317.3,1088.6 L1315.8,1091.2 L1314.2,1093.8 L1312.5,1096.3 L1310.8,1098.7 L1309.0,1101.1 L1307.1,1103.5 L1305.1,1105.8 L1303.0,1108.0 L1300.9,1110.1 L1298.7,1112.1 L1296.4,1114.1 L1294.0,1115.9 L1291.6,1117.7 L1289.1,1119.5 L1286.6,1121.1 L1284.0,1122.7 L1281.4,1124.2 L1278.8,1125.6 L1276.1,1127.0 L1273.4,1128.4 L1270.7,1129.7 L1267.9,1131.0 L1265.2,1132.2 L1262.4,1133.4 L1259.6,1134.6 L1256.9,1135.7 L1254.0,1136.8 L1251.2,1137.9 L1248.4,1138.9 L1245.6,1140.0 L1242.7,1141.0 L1239.9,1142.0 L1237.1,1143.0 L1234.2,1144.0 L1231.3,1144.9 L1228.5,1145.9 L1225.6,1146.9 L1222.8,1147.8 L1219.9,1148.8 L1217.1,1149.8 L1214.2,1150.8 L1211.4,1151.8 L1208.5,1152.7 L1205.7,1153.7 L1202.8,1154.6" stroke="#000"/>
<path d="M1591.5,671.3 L1589.3,673.4 L1587.1,675.5 L1584.9,677.6 L1582.8,679.6 L1580.6,681.7 L1578.4,683.8 L1576.2,685.9 L1574.1,688.0 L1571.9,690.1 L1569.8,692.3 L1567.6,694.4 L1565.5,696.5 L1563.4,698.6 L1561.2,700.8 L1559.1,702.9 L1557.0,705.1 L1554.9,707.2 L1552.8,709.4 L1550.7,711.5 L1548.6,713.7 L1546.5,715.9 L1544.4,718.1 L1542.3,720.2 L1540.3,722.4 L1538.2,724.6 L1536.1,726.8 L1534.1,729.0 L1532.0,731.3 L1530.0,733.5 L1528.0,735.7 L1525.9,738.0 L1523.9,740.2 L1521.9,742.4 L1519.9,744.7 L1517.9,747.0 L1515.9,749.2 L1514.0,751.5 L1512.0,753.8 L1510.0,756.1 L1508.1,758.4 L1506.1,760.7 L1504.2,763.0 L1502.3,765.3 L1500.3,767.6 L1498.4,770.0 L1496.5,772.3 L1494.6,774.7 L1492.8,777.0 L1490.9,779.4 L1489.0,781.8 L1487.2,784.1 L1485.3,786.5 L1483.5,788.9 L1481.7,791.3 L1479.9,793.7 L1478.1,796.2 L1476.3,798.6 L1474.5,801.0 L1472.8,803.5 L1471.0,805.9 L1469.3,808.4 L1467.5,810.9 L1465.8,813.3 L1464.1,815.8 L1462.4,818.3 L1460.7,820.8 L1459.1,823.3 L1457.4,825.9 L1455.8,828.4 L1454.1,830.9 L1452.5,833.5 L1450.9,836.0 L1449.3,838.6 L1447.8,841.2 L1446.2,843.8 L1444.6,846.3 L1443.1,848.9 L1441.6,851.5 L1440.1,854.2 L1438.6,856.8 L1437.1,859.4 L1435.7,862.1 L1434.2,864.7 L1432.8,867.4 L1431.4,870.0 L1430.0,872.7 L1428.6,875.4 L1427.3,878.1 L1425.9,880.8 L1424.6,883.5 L1423.3,886.2 L1422.0,888.9 L1420.7,891.7 L1419.5,894.4 L1418.2,897.2 L1417.0,899.9 L1415.8,902.7 L1414.6,905.4 L1413.4,908.2 L1412.3,911.0 L1411.2,913.8 L1410.1,916.6 L1409.0,919.4 L1407.9,922.2 L1406.8,925.1 L1405.8,927.9 L1404.8,930.7 L1403.8,933.6 L1402.8,936.4 L1401.8,939.3 L1400.9,942.2 L1400.0,945.0 L1399.1,947.9 L1398.2,950.8 L1397.4,953.7 L1396.5,956.6 L1395.7,959.5 L1394.9,962.4 L1394.2,965.3 L1393.4,968.2 L1392.7,971.2 L1392.0,974.1 L1391.3,977.0 L1390.6,980.0 L1390.0,982.9 L1389.3,985.9 L1388.7,988.8 L1388.2,991.8 L1387.6,994.8 L1387.1,997.7 L1386.6,1000.7 L1386.1,1003.7 L1385.7,1006.7 L1385.3,1009.7 L1384.9,1012.6 L1384.5,1015.6 L1384.2,1018.6 L1383.9,1021.6 L1383.6,1024.6 L1383.4,1027.6 L1383.2,1030.7 L1383.0,1033.7 L1382.9,1036.7 L1382.8,1039.7 L1382.8,1042.7 L1382.8,1045.7 L1382.9,1048.7 L1383.0,1051.8 L1383.1,1054.8 L1383.3,1057.8 L1383.6,1060.8 L1383.9,1063.8 L1384.2,1066.8 L1384.7,1069.8 L1385.2,1072.7 L1385.7,1075.7 L1386.4,1078.6 L1387.1,1081.6 L1387.8,1084.5 L1388.7,1087.4 L1389.7,1090.2 L1390.7,1093.1 L1391.9,1095.8 L1393.2,1098.6 L1394.6,1101.3 L1396.1,1103.9 L1397.7,1106.4 L1399.5,1108.8 L1401.4,1111.2 L1403.4,1113.4 L1405.6,1115.5 L1407.8,1117.6 L1410.1,1119.5 L1412.5,1121.4 L1414.9,1123.2 L1417.4,1124.8 L1419.9,1126.5 L1422.5,1128.0 L1425.1,1129.5 L1427.8,1131.0 L1430.4,1132.4 L1433.1,1133.8 L1435.8,1135.1 L1438.6,1136.4 L1441.3,1137.7 L1444.0,1138.9 L1446.8,1140.1 L1449.6,1141.3 L1452.4,1142.4 L1455.1,1143.6 L1457.9,1144.7 L1460.7,1145.9 L1463.5,1147.0 L1466.3,1148.2 L1469.1,1149.4 L1471.9,1150.5 L1474.6,1151.7 L1477.4,1152.9 L1480.2,1154.1" stroke="#000"/>
<path d="M1473.5,671.3 L1471.3,673.4 L1469.1,675.5 L1466.9,677.5 L1464.7,679.6 L1462.6,681.7 L1460.4,683.8 L1458.2,685.9 L1456.1,688.0 L1453.9,690.1 L1451.8,692.2 L1449.6,694.4 L1447.5,696.5 L1445.3,698.6 L1443.2,700.7 L1441.1,702.9 L1439.0,705.0 L1436.8,707.2 L1434.7,709.3 L1432.6,711.5 L1430.5,713.6 L1428.4,715.8 L1426.3,718.0 L1424.3,720.2 L1422.2,722.4 L1420.1,724.5 L1418.0,726.7 L1416.0,728.9 L1413.9,731.2 L1411.9,733.4 L1409.9,735.6 L1407.8,737.8 L1405.8,740.1 L1403.8,742.3 L1401.8,744.5 L1399.8,746.8 L1397.8,749.1 L1395.8,751.3 L1393.8,753.6 L1391.8,755.9 L1389.9,758.2 L1387.9,760.5 L1385.9,762.7 L1384.0,765.1 L1382.1,767.4 L1380.1,769.7 L1378.2,772.0 L1376.3,774.3 L1374.4,776.7 L1372.5,779.0 L1370.6,781.4 L1368.8,783.7 L1366.9,786.1 L1365.0,788.5 L1363.2,790.9 L1361.3,793.3 L1359.5,795.7 L1357.7,798.1 L1355.9,800.5 L1354.1,802.9 L1352.3,805.3 L1350.5,807.7 L1348.7,810.2 L1347.0,812.6 L1345.2,815.1 L1343.5,817.5 L1341.7,820.0 L1340.0,822.5 L1338.3,825.0 L1336.6,827.5 L1334.9,830.0 L1333.2,832.5 L1331.6,835.0 L1329.9,837.5 L1328.3,840.0 L1326.6,842.6 L1325.0,845.1 L1323.4,847.6 L1321.8,850.2 L1320.2,852.8 L1318.7,855.3 L1317.1,857.9 L1315.5,860.5 L1314.0,863.1 L1312.5,865.7 L1310.9,868.3 L1309.4,870.9 L1307.9,873.5 L1306.5,876.2 L1305.0,878.8 L1303.5,881.4 L1302.1,884.1 L1300.7,886.7 L1299.2,889.4 L1297.8,892.0 L1296.4,894.7 L1295.0,897.4 L1293.7,900.1 L1292.3,902.8 L1291.0,905.5 L1289.6,908.2 L1288.3,910.9 L1287.0,913.6 L1285.7,916.3 L1284.4,919.0 L1283.1,921.8 L1281.8,924.5 L1280.6,927.2 L1279.3,930.0 L1278.1,932.7 L1276.9,935.5 L1275.7,938.2 L1274.4,941.0 L1273.3,943.8 L1272.1,946.6 L1270.9,949.3 L1269.7,952.1 L1268.6,954.9 L1267.4,957.7 L1266.3,960.5 L1265.2,963.3 L1264.1,966.1 L1263.0,968.9 L1261.9,971.7 L1260.8,974.5 L1259.7,977.3 L1258.7,980.2 L1257.6,983.0 L1256.6,985.8 L1255.5,988.6 L1254.5,991.5 L1253.4,994.3 L1252.4,997.1 L1251.4,1000.0 L1250.4,1002.8 L1249.4,1005.6 L1248.3,1008.5 L1247.3,1011.3 L1246.3,1014.2 L1245.3,1017.0 L1244.3,1019.8 L1243.2,1022.7 L1242.2,1025.5 L1241.2,1028.3 L1240.1,1031.2 L1239.1,1034.0 L1238.0,1036.8 L1236.9,1039.6 L1235.8,1042.4 L1234.7,1045.2 L1233.6,1048.0 L1232.4,1050.8 L1231.2,1053.6 L1230.0,1056.3 L1228.8,1059.1 L1227.6,1061.8 L1226.3,1064.6 L1225.0,1067.3 L1223.6,1070.0 L1222.2,1072.7 L1220.8,1075.3 L1219.4,1078.0 L1217.9,1080.6 L1216.4,1083.2 L1214.8,1085.8 L1213.1,1088.3 L1211.4,1090.8 L1209.7,1093.2 L1207.8,1095.6 L1205.9,1098.0 L1204.0,1100.2 L1201.9,1102.5 L1199.8,1104.6 L1197.6,1106.7 L1195.4,1108.7 L1193.0,1110.6 L1190.6,1112.4 L1188.2,1114.2 L1185.7,1115.8 L1183.1,1117.4 L1180.5,1119.0 L1177.9,1120.4 L1175.2,1121.9 L1172.5,1123.2 L1169.8,1124.5 L1167.1,1125.8 L1164.3,1127.0 L1161.5,1128.1 L1158.7,1129.3 L1155.9,1130.4 L1153.1,1131.4 L1150.3,1132.5 L1147.4,1133.5 L1144.6,1134.5 L1141.7,1135.4 L1138.9,1136.4 L1136.0,1137.3 L1133.1,1138.2 L1130.2,1139.1 L1127.3,1140.0 L1124.5,1140.8 L1121.6,1141.7 L1118.7,1142.5 L1115.8,1143.3 L1112.9,1144.1 L1110.0,1144.9 L1107.0,1145.8 L1104.1,1146.6 L1101.2,1147.4 L1098.3,1148.2 L1095.4,1149.0 L1092.5,1149.8 L1089.6,1150.6 L1086.7,1151.4 L1083.8,1152.3 L1080.9,1153.1 L1078.0,1153.9 L1075.1,1154.6" stroke="#e60012"/>
<path d="M1485.7,671.3 L1483.6,673.4 L1481.4,675.5 L1479.3,677.7 L1477.1,679.8 L1475.0,681.9 L1472.8,684.1 L1470.7,686.2 L1468.6,688.3 L1466.5,690.5 L1464.3,692.7 L1462.2,694.8 L1460.1,697.0 L1458.0,699.2 L1455.9,701.3 L1453.8,703.5 L1451.7,705.7 L1449.7,707.9 L1447.6,710.1 L1445.5,712.3 L1443.5,714.5 L1441.4,716.7 L1439.4,719.0 L1437.3,721.2 L1435.3,723.4 L1433.3,725.7 L1431.3,727.9 L1429.3,730.2 L1427.3,732.5 L1425.3,734.7 L1423.3,737.0 L1421.3,739.3 L1419.3,741.6 L1417.4,743.9 L1415.4,746.2 L1413.5,748.5 L1411.5,750.8 L1409.6,753.2 L1407.7,755.5 L1405.8,757.8 L1403.9,760.2 L1402.0,762.5 L1400.1,764.9 L1398.2,767.3 L1396.4,769.7 L1394.5,772.0 L1392.7,774.4 L1390.8,776.8 L1389.0,779.3 L1387.2,781.7 L1385.4,784.1 L1383.6,786.5 L1381.8,789.0 L1380.1,791.4 L1378.3,793.9 L1376.6,796.4 L1374.8,798.8 L1373.1,801.3 L1371.4,803.8 L1369.7,806.3 L1368.0,808.8 L1366.3,811.3 L1364.7,813.9 L1363.0,816.4 L1361.4,818.9 L1359.8,821.5 L1358.2,824.1 L1356.6,826.6 L1355.0,829.2 L1353.4,831.8 L1351.9,834.4 L1350.3,837.0 L1348.8,839.6 L1347.3,842.2 L1345.8,844.8 L1344.3,847.5 L1342.9,850.1 L1341.4,852.8 L1340.0,855.4 L1338.6,858.1 L1337.2,860.8 L1335.8,863.5 L1334.4,866.2 L1333.1,868.9 L1331.7,871.6 L1330.4,874.3 L1329.1,877.0 L1327.8,879.8 L1326.6,882.5 L1325.3,885.3 L1324.1,888.0 L1322.9,890.8 L1321.7,893.6 L1320.5,896.3 L1319.3,899.1 L1318.2,901.9 L1317.1,904.7 L1316.0,907.5 L1314.9,910.4 L1313.8,913.2 L1312.8,916.0 L1311.7,918.9 L1310.7,921.7 L1309.7,924.6 L1308.8,927.4 L1307.8,930.3 L1306.9,933.2 L1306.0,936.1 L1305.1,939.0 L1304.2,941.9 L1303.4,944.8 L1302.6,947.7 L1301.8,950.6 L1301.0,953.5 L1300.2,956.4 L1299.5,959.4 L1298.8,962.3 L1298.1,965.2 L1297.4,968.2 L1296.8,971.1 L1296.1,974.1 L1295.5,977.1 L1294.9,980.0 L1294.4,983.0 L1293.8,986.0 L1293.3,988.9 L1292.8,991.9 L1292.4,994.9 L1291.9,997.9 L1291.5,1000.9 L1291.1,1003.9 L1290.8,1006.9 L1290.4,1009.9 L1290.1,1012.9 L1289.9,1015.9 L1289.6,1018.9 L1289.4,1021.9 L1289.3,1025.0 L1289.2,1028.0 L1289.1,1031.0 L1289.0,1034.0 L1289.0,1037.0 L1289.1,1040.1 L1289.2,1043.1 L1289.3,1046.1 L1289.5,1049.1 L1289.8,1052.1 L1290.1,1055.1 L1290.4,1058.1 L1290.9,1061.1 L1291.3,1064.1 L1291.9,1067.1 L1292.5,1070.1 L1293.2,1073.0 L1293.9,1075.9 L1294.8,1078.8 L1295.7,1081.7 L1296.7,1084.6 L1297.7,1087.4 L1298.9,1090.2 L1300.2,1092.9 L1301.6,1095.6 L1303.1,1098.2 L1304.7,1100.8 L1306.4,1103.3 L1308.2,1105.7 L1310.2,1108.0 L1312.3,1110.2 L1314.4,1112.3 L1316.7,1114.3 L1319.0,1116.2 L1321.4,1118.0 L1323.9,1119.7 L1326.5,1121.4 L1329.0,1123.0 L1331.6,1124.5 L1334.3,1126.0 L1337.0,1127.4 L1339.7,1128.7 L1342.4,1130.0 L1345.1,1131.3 L1347.9,1132.5 L1350.7,1133.7 L1353.5,1134.9 L1356.3,1136.0 L1359.1,1137.1 L1361.9,1138.2 L1364.7,1139.3 L1367.6,1140.3 L1370.4,1141.4 L1373.2,1142.4 L1376.1,1143.4 L1378.9,1144.4 L1381.8,1145.4 L1384.7,1146.4 L1387.5,1147.4 L1390.4,1148.4 L1393.2,1149.4 L1396.0,1150.5 L1398.9,1151.5 L1401.7,1152.5 L1404.6,1153.6 L1407.4,1154.6" stroke="#e60012"/>
<path d="M1380.5,671.3 L1378.3,673.4 L1376.1,675.5 L1373.9,677.6 L1371.8,679.7 L1369.6,681.8 L1367.5,683.9 L1365.3,686.0 L1363.2,688.1 L1361.0,690.3 L1358.9,692.4 L1356.8,694.5 L1354.6,696.7 L1352.5,698.8 L1350.4,700.9 L1348.3,703.1 L1346.2,705.3 L1344.1,707.4 L1342.0,709.6 L1339.9,711.8 L1337.8,714.0 L1335.8,716.1 L1333.7,718.3 L1331.6,720.5 L1329.6,722.8 L1327.5,725.0 L1325.5,727.2 L1323.4,729.4 L1321.4,731.6 L1319.4,733.9 L1317.4,736.1 L1315.4,738.4 L1313.4,740.6 L1311.4,742.9 L1309.4,745.2 L1307.4,747.4 L1305.4,749.7 L1303.5,752.0 L1301.5,754.3 L1299.6,756.6 L1297.6,758.9 L1295.7,761.2 L1293.8,763.5 L1291.8,765.9 L1289.9,768.2 L1288.0,770.5 L1286.1,772.9 L1284.3,775.3 L1282.4,777.6 L1280.5,780.0 L1278.7,782.4 L1276.8,784.8 L1275.0,787.1 L1273.2,789.5 L1271.3,791.9 L1269.5,794.4 L1267.7,796.8 L1265.9,799.2 L1264.2,801.6 L1262.4,804.1 L1260.6,806.5 L1258.9,809.0 L1257.1,811.5 L1255.4,813.9 L1253.7,816.4 L1252.0,818.9 L1250.3,821.4 L1248.6,823.9 L1246.9,826.4 L1245.3,828.9 L1243.6,831.4 L1242.0,833.9 L1240.3,836.5 L1238.7,839.0 L1237.1,841.6 L1235.5,844.1 L1233.9,846.7 L1232.3,849.3 L1230.8,851.8 L1229.2,854.4 L1227.7,857.0 L1226.1,859.6 L1224.6,862.2 L1223.1,864.8 L1221.6,867.4 L1220.1,870.1 L1218.6,872.7 L1217.2,875.3 L1215.7,878.0 L1214.3,880.6 L1212.9,883.3 L1211.4,886.0 L1210.0,888.6 L1208.6,891.3 L1207.3,894.0 L1205.9,896.7 L1204.5,899.4 L1203.2,902.1 L1201.8,904.8 L1200.5,907.5 L1199.2,910.2 L1197.9,912.9 L1196.6,915.6 L1195.3,918.4 L1194.1,921.1 L1192.8,923.8 L1191.5,926.6 L1190.3,929.3 L1189.1,932.1 L1187.9,934.8 L1186.6,937.6 L1185.4,940.4 L1184.2,943.1 L1183.1,945.9 L1181.9,948.7 L1180.7,951.5 L1179.6,954.2 L1178.4,957.0 L1177.3,959.8 L1176.2,962.6 L1175.0,965.4 L1173.9,968.2 L1172.8,971.0 L1171.7,973.8 L1170.6,976.7 L1169.5,979.5 L1168.5,982.3 L1167.4,985.1 L1166.3,987.9 L1165.3,990.7 L1164.2,993.6 L1163.1,996.4 L1162.1,999.2 L1161.0,1002.0 L1160.0,1004.9 L1158.9,1007.7 L1157.9,1010.5 L1156.8,1013.3 L1155.7,1016.2 L1154.7,1019.0 L1153.6,1021.8 L1152.5,1024.6 L1151.4,1027.4 L1150.3,1030.2 L1149.1,1033.0 L1148.0,1035.8 L1146.8,1038.6 L1145.6,1041.4 L1144.4,1044.1 L1143.2,1046.9 L1141.9,1049.6 L1140.7,1052.3 L1139.4,1055.1 L1138.0,1057.8 L1136.6,1060.4 L1135.2,1063.1 L1133.8,1065.8 L1132.3,1068.4 L1130.8,1071.0 L1129.3,1073.6 L1127.7,1076.1 L1126.0,1078.7 L1124.3,1081.2 L1122.6,1083.6 L1120.8,1086.1 L1119.0,1088.5 L1117.1,1090.8 L1115.1,1093.1 L1113.1,1095.3 L1111.0,1097.5 L1108.8,1099.6 L1106.6,1101.7 L1104.3,1103.6 L1102.0,1105.5 L1099.6,1107.4 L1097.1,1109.1 L1094.6,1110.8 L1092.1,1112.4 L1089.5,1113.9 L1086.8,1115.4 L1084.2,1116.8 L1081.5,1118.1 L1078.7,1119.4 L1076.0,1120.6 L1073.2,1121.8 L1070.4,1122.9 L1067.6,1124.0 L1064.8,1125.1 L1062.0,1126.1 L1059.1,1127.1 L1056.2,1128.1 L1053.4,1129.0 L1050.5,1130.0 L1047.6,1130.8 L1044.7,1131.7 L1041.8,1132.6 L1038.9,1133.4 L1036.0,1134.2 L1033.1,1135.0 L1030.2,1135.8 L1027.3,1136.5 L1024.4,1137.3 L1021.5,1138.0 L1018.5,1138.7 L1015.6,1139.5 L1012.7,1140.2 L1009.7,1140.8 L1006.8,1141.5 L1003.8,1142.2 L1000.9,1142.9 L998.0,1143.5 L995.0,1144.2 L992.1,1144.8 L989.1,1145.5 L986.2,1146.1 L983.2,1146.8 L980.3,1147.4 L977.3,1148.0 L974.4,1148.7 L971.5,1149.3 L968.5,1150.0 L965.6,1150.6 L962.6,1151.3 L959.7,1152.0 L956.7,1152.6 L953.8,1153.2 L950.8,1153.9 L947.9,1154.5" stroke="#1544a0"/>
<path d="M1395.4,671.3 L1393.2,673.4 L1391.1,675.6 L1388.9,677.7 L1386.8,679.9 L1384.7,682.0 L1382.6,684.2 L1380.5,686.4 L1378.4,688.5 L1376.3,690.7 L1374.2,692.9 L1372.1,695.1 L1370.0,697.3 L1367.9,699.5 L1365.9,701.7 L1363.8,703.9 L1361.7,706.1 L1359.7,708.3 L1357.6,710.6 L1355.6,712.8 L1353.6,715.0 L1351.6,717.3 L1349.6,719.6 L1347.6,721.8 L1345.6,724.1 L1343.6,726.4 L1341.6,728.7 L1339.6,730.9 L1337.6,733.2 L1335.7,735.5 L1333.7,737.9 L1331.8,740.2 L1329.9,742.5 L1327.9,744.8 L1326.0,747.2 L1324.1,749.5 L1322.2,751.9 L1320.3,754.3 L1318.5,756.6 L1316.6,759.0 L1314.8,761.4 L1312.9,763.8 L1311.1,766.2 L1309.2,768.6 L1307.4,771.0 L1305.6,773.5 L1303.8,775.9 L1302.1,778.3 L1300.3,780.8 L1298.5,783.2 L1296.8,785.7 L1295.0,788.2 L1293.3,790.7 L1291.6,793.2 L1289.9,795.7 L1288.2,798.2 L1286.5,800.7 L1284.9,803.2 L1283.2,805.8 L1281.6,808.3 L1280.0,810.9 L1278.4,813.4 L1276.8,816.0 L1275.2,818.6 L1273.6,821.1 L1272.1,823.7 L1270.5,826.3 L1269.0,829.0 L1267.5,831.6 L1266.0,834.2 L1264.5,836.8 L1263.1,839.5 L1261.6,842.1 L1260.2,844.8 L1258.8,847.5 L1257.4,850.2 L1256.0,852.8 L1254.6,855.5 L1253.2,858.2 L1251.9,861.0 L1250.6,863.7 L1249.3,866.4 L1248.0,869.1 L1246.7,871.9 L1245.5,874.6 L1244.3,877.4 L1243.0,880.2 L1241.9,883.0 L1240.7,885.7 L1239.5,888.5 L1238.4,891.3 L1237.3,894.1 L1236.1,897.0 L1235.1,899.8 L1234.0,902.6 L1233.0,905.5 L1231.9,908.3 L1230.9,911.1 L1229.9,914.0 L1229.0,916.9 L1228.0,919.7 L1227.1,922.6 L1226.2,925.5 L1225.3,928.4 L1224.5,931.3 L1223.6,934.2 L1222.8,937.1 L1222.0,940.0 L1221.2,943.0 L1220.5,945.9 L1219.8,948.8 L1219.1,951.8 L1218.4,954.7 L1217.7,957.7 L1217.1,960.6 L1216.4,963.6 L1215.8,966.5 L1215.3,969.5 L1214.7,972.5 L1214.2,975.5 L1213.7,978.4 L1213.2,981.4 L1212.8,984.4 L1212.3,987.4 L1211.9,990.4 L1211.5,993.4 L1211.2,996.4 L1210.9,999.4 L1210.6,1002.4 L1210.3,1005.4 L1210.1,1008.5 L1209.9,1011.5 L1209.7,1014.5 L1209.6,1017.5 L1209.5,1020.5 L1209.5,1023.6 L1209.5,1026.6 L1209.5,1029.6 L1209.6,1032.6 L1209.7,1035.7 L1209.9,1038.7 L1210.1,1041.7 L1210.4,1044.7 L1210.7,1047.7 L1211.1,1050.7 L1211.6,1053.7 L1212.1,1056.7 L1212.7,1059.6 L1213.4,1062.6 L1214.1,1065.5 L1214.9,1068.4 L1215.7,1071.3 L1216.7,1074.2 L1217.7,1077.1 L1218.8,1079.9 L1220.0,1082.7 L1221.2,1085.4 L1222.6,1088.1 L1224.1,1090.8 L1225.6,1093.4 L1227.3,1095.9 L1229.0,1098.3 L1230.9,1100.7 L1232.9,1103.0 L1234.9,1105.2 L1237.1,1107.4 L1239.3,1109.4 L1241.7,1111.3 L1244.1,1113.1 L1246.5,1114.9 L1249.1,1116.5 L1251.6,1118.1 L1254.3,1119.6 L1256.9,1121.1 L1259.6,1122.5 L1262.3,1123.8 L1265.1,1125.1 L1267.8,1126.3 L1270.6,1127.5 L1273.4,1128.7 L1276.2,1129.8 L1279.0,1130.9 L1281.9,1131.9 L1284.7,1133.0 L1287.5,1134.0 L1290.4,1135.0 L1293.3,1135.9 L1296.1,1136.9 L1299.0,1137.8 L1301.9,1138.8 L1304.8,1139.7 L1307.7,1140.5 L1310.6,1141.4 L1313.5,1142.3 L1316.4,1143.2 L1319.3,1144.0 L1322.2,1144.9 L1325.1,1145.7 L1328.0,1146.6 L1330.9,1147.4 L1333.8,1148.3 L1336.7,1149.2 L1339.5,1150.0 L1342.4,1150.9 L1345.3,1151.8 L1348.2,1152.7 L1351.1,1153.6 L1354.0,1154.5 L1356.9,1155.3" stroke="#1544a0"/>
</g>
<rect x="946.8" y="687.6" width="605.4" height="488.6" fill="none" stroke="#000" stroke-width="3.1"/>
<path d="M1027.0,1176.2 V1166.7 M1391.0,1176.2 V1166.7 M1209.0,1176.2 V1171.0 M946.8,931.9 H956.3 M946.8,809.8 H952.0 M946.8,1054.1 H952.0" stroke="#000" stroke-width="4.0" fill="none"/>
<text x="1013.6 1023.6 1040.6" y="1210.4" text-anchor="middle" font-size="28.5" font-family="Liberation Serif, serif">2.7</text>
<text x="1377.6 1387.6 1404.6" y="1210.4" text-anchor="middle" font-size="28.5" font-family="Liberation Serif, serif">3.6</text>
<text x="888.2 898.1 915.2 928.8" y="698.6" text-anchor="middle" font-size="28.5" font-family="Liberation Serif, serif">0.90</text>
<text x="888.2 898.1 915.2 928.8" y="942.9" text-anchor="middle" font-size="28.5" font-family="Liberation Serif, serif">0.45</text>
<text x="888.2 898.1 915.2 928.8" y="1187.2" text-anchor="middle" font-size="28.5" font-family="Liberation Serif, serif">0.00</text>
<text x="1271.2" y="1264.5" text-anchor="middle" font-size="34" font-family="Liberation Serif, serif"><tspan font-style="italic">Ω</tspan> (kHz)</text>
<text transform="translate(850.7,949.8) rotate(-90)" text-anchor="middle" font-size="34" font-family="Liberation Serif, serif"><tspan font-style="italic">A</tspan> (m)</text>
<line x1="962.4" x2="1050.6" y1="723.8" y2="723.8" stroke="#000" stroke-width="3.0"/>
<text x="1070.8" y="739.1" font-size="42" font-family="Liberation Serif, serif"><tspan font-style="italic">e</tspan><tspan font-size="27.7" dx="1.5" dy="12.5">1</tspan><tspan dx="0.5" dy="-12.5">=</tspan><tspan dx="0.5">0</tspan></text>
<line x1="962.4" x2="1050.6" y1="839.5" y2="839.5" stroke="#e60012" stroke-width="3.0"/>
<text x="1070.8" y="854.8" font-size="42" font-family="Liberation Serif, serif"><tspan font-style="italic">e</tspan><tspan font-size="27.7" dx="1.5" dy="12.5">1</tspan><tspan dx="0.5" dy="-12.5">=</tspan><tspan dx="0.5">0.3</tspan></text>
<line x1="962.4" x2="1050.6" y1="902.7" y2="902.7" stroke="#1544a0" stroke-width="3.0"/>
<text x="1070.8" y="917.7" font-size="42" font-family="Liberation Serif, serif"><tspan font-style="italic">e</tspan><tspan font-size="27.7" dx="1.5" dy="12.5">1</tspan><tspan dx="0.5" dy="-12.5">=</tspan><tspan dx="0.5">0.6</tspan></text>
<text x="960.0" y="795.7" font-size="33" font-family="Liberation Serif, Noto Serif CJK SC, serif">(<tspan dx="4.5">without porosity</tspan><tspan dx="2.5">)</tspan></text>
<text x="829.0" y="669.6" font-size="32" font-family="Liberation Serif, serif">d</text>
</g>
</svg>
</body></html>
